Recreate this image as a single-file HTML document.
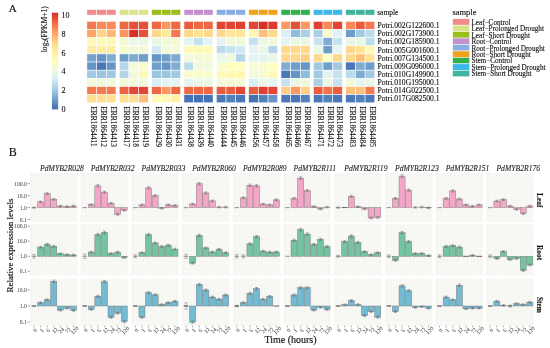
<!DOCTYPE html>
<html><head><meta charset="utf-8"><style>
html,body{margin:0;padding:0;background:#fff;width:550px;height:348px;overflow:hidden}
svg{display:block;will-change:transform}
text{font-family:"Liberation Serif", serif;fill:#111;stroke:#111;stroke-width:0.12px}
.s{stroke-width:0.16px}
.st{fill:#2a2a2a;stroke:#2a2a2a}
.t{fill:#505050;stroke:#505050;stroke-width:0.05px}
</style></head><body>
<svg width="550" height="348" viewBox="0 0 550 348">
<rect width="550" height="348" fill="#fff"/>
<rect x="86.90" y="9.5" width="9.70" height="5.6" fill="#F28B8B" stroke="#fff" stroke-width="0.55"/>
<rect x="96.60" y="9.5" width="9.70" height="5.6" fill="#F28B8B" stroke="#fff" stroke-width="0.55"/>
<rect x="106.30" y="9.5" width="9.70" height="5.6" fill="#F28B8B" stroke="#fff" stroke-width="0.55"/>
<rect x="119.25" y="9.5" width="9.70" height="5.6" fill="#D9E38A" stroke="#fff" stroke-width="0.55"/>
<rect x="128.95" y="9.5" width="9.70" height="5.6" fill="#D9E38A" stroke="#fff" stroke-width="0.55"/>
<rect x="138.65" y="9.5" width="9.70" height="5.6" fill="#D9E38A" stroke="#fff" stroke-width="0.55"/>
<rect x="151.60" y="9.5" width="9.70" height="5.6" fill="#9CBE1C" stroke="#fff" stroke-width="0.55"/>
<rect x="161.30" y="9.5" width="9.70" height="5.6" fill="#9CBE1C" stroke="#fff" stroke-width="0.55"/>
<rect x="171.00" y="9.5" width="9.70" height="5.6" fill="#9CBE1C" stroke="#fff" stroke-width="0.55"/>
<rect x="183.95" y="9.5" width="9.70" height="5.6" fill="#C48FCE" stroke="#fff" stroke-width="0.55"/>
<rect x="193.65" y="9.5" width="9.70" height="5.6" fill="#C48FCE" stroke="#fff" stroke-width="0.55"/>
<rect x="203.35" y="9.5" width="9.70" height="5.6" fill="#C48FCE" stroke="#fff" stroke-width="0.55"/>
<rect x="216.30" y="9.5" width="9.70" height="5.6" fill="#88AEE2" stroke="#fff" stroke-width="0.55"/>
<rect x="226.00" y="9.5" width="9.70" height="5.6" fill="#88AEE2" stroke="#fff" stroke-width="0.55"/>
<rect x="235.70" y="9.5" width="9.70" height="5.6" fill="#88AEE2" stroke="#fff" stroke-width="0.55"/>
<rect x="248.65" y="9.5" width="9.70" height="5.6" fill="#EFA21E" stroke="#fff" stroke-width="0.55"/>
<rect x="258.35" y="9.5" width="9.70" height="5.6" fill="#EFA21E" stroke="#fff" stroke-width="0.55"/>
<rect x="268.05" y="9.5" width="9.70" height="5.6" fill="#EFA21E" stroke="#fff" stroke-width="0.55"/>
<rect x="281.00" y="9.5" width="9.70" height="5.6" fill="#33B04D" stroke="#fff" stroke-width="0.55"/>
<rect x="290.70" y="9.5" width="9.70" height="5.6" fill="#33B04D" stroke="#fff" stroke-width="0.55"/>
<rect x="300.40" y="9.5" width="9.70" height="5.6" fill="#33B04D" stroke="#fff" stroke-width="0.55"/>
<rect x="313.35" y="9.5" width="9.70" height="5.6" fill="#3DB8E6" stroke="#fff" stroke-width="0.55"/>
<rect x="323.05" y="9.5" width="9.70" height="5.6" fill="#3DB8E6" stroke="#fff" stroke-width="0.55"/>
<rect x="332.75" y="9.5" width="9.70" height="5.6" fill="#3DB8E6" stroke="#fff" stroke-width="0.55"/>
<rect x="345.70" y="9.5" width="9.70" height="5.6" fill="#41B29E" stroke="#fff" stroke-width="0.55"/>
<rect x="355.40" y="9.5" width="9.70" height="5.6" fill="#41B29E" stroke="#fff" stroke-width="0.55"/>
<rect x="365.10" y="9.5" width="9.70" height="5.6" fill="#41B29E" stroke="#fff" stroke-width="0.55"/>
<rect x="86.90" y="21.30" width="9.70" height="8.15" fill="#F4794E" stroke="#fff" stroke-width="0.55"/>
<rect x="96.60" y="21.30" width="9.70" height="8.15" fill="#FB8957" stroke="#fff" stroke-width="0.55"/>
<rect x="106.30" y="21.30" width="9.70" height="8.15" fill="#FB8957" stroke="#fff" stroke-width="0.55"/>
<rect x="119.25" y="21.30" width="9.70" height="8.15" fill="#ED6845" stroke="#fff" stroke-width="0.55"/>
<rect x="128.95" y="21.30" width="9.70" height="8.15" fill="#E45139" stroke="#fff" stroke-width="0.55"/>
<rect x="138.65" y="21.30" width="9.70" height="8.15" fill="#E45139" stroke="#fff" stroke-width="0.55"/>
<rect x="151.60" y="21.30" width="9.70" height="8.15" fill="#ED6845" stroke="#fff" stroke-width="0.55"/>
<rect x="161.30" y="21.30" width="9.70" height="8.15" fill="#FC9961" stroke="#fff" stroke-width="0.55"/>
<rect x="171.00" y="21.30" width="9.70" height="8.15" fill="#ED6845" stroke="#fff" stroke-width="0.55"/>
<rect x="183.95" y="21.30" width="9.70" height="8.15" fill="#E95D3F" stroke="#fff" stroke-width="0.55"/>
<rect x="193.65" y="21.30" width="9.70" height="8.15" fill="#ED6845" stroke="#fff" stroke-width="0.55"/>
<rect x="203.35" y="21.30" width="9.70" height="8.15" fill="#ED6845" stroke="#fff" stroke-width="0.55"/>
<rect x="216.30" y="21.30" width="9.70" height="8.15" fill="#E04633" stroke="#fff" stroke-width="0.55"/>
<rect x="226.00" y="21.30" width="9.70" height="8.15" fill="#E04633" stroke="#fff" stroke-width="0.55"/>
<rect x="235.70" y="21.30" width="9.70" height="8.15" fill="#DE4130" stroke="#fff" stroke-width="0.55"/>
<rect x="248.65" y="21.30" width="9.70" height="8.15" fill="#E04633" stroke="#fff" stroke-width="0.55"/>
<rect x="258.35" y="21.30" width="9.70" height="8.15" fill="#D73027" stroke="#fff" stroke-width="0.55"/>
<rect x="268.05" y="21.30" width="9.70" height="8.15" fill="#DB3B2D" stroke="#fff" stroke-width="0.55"/>
<rect x="281.00" y="21.30" width="9.70" height="8.15" fill="#FC9961" stroke="#fff" stroke-width="0.55"/>
<rect x="290.70" y="21.30" width="9.70" height="8.15" fill="#E45139" stroke="#fff" stroke-width="0.55"/>
<rect x="300.40" y="21.30" width="9.70" height="8.15" fill="#FC9961" stroke="#fff" stroke-width="0.55"/>
<rect x="313.35" y="21.30" width="9.70" height="8.15" fill="#DE4130" stroke="#fff" stroke-width="0.55"/>
<rect x="323.05" y="21.30" width="9.70" height="8.15" fill="#FB8957" stroke="#fff" stroke-width="0.55"/>
<rect x="332.75" y="21.30" width="9.70" height="8.15" fill="#E04633" stroke="#fff" stroke-width="0.55"/>
<rect x="345.70" y="21.30" width="9.70" height="8.15" fill="#FB8957" stroke="#fff" stroke-width="0.55"/>
<rect x="355.40" y="21.30" width="9.70" height="8.15" fill="#E95D3F" stroke="#fff" stroke-width="0.55"/>
<rect x="365.10" y="21.30" width="9.70" height="8.15" fill="#F4794E" stroke="#fff" stroke-width="0.55"/>
<rect x="86.90" y="29.45" width="9.70" height="8.15" fill="#FDA367" stroke="#fff" stroke-width="0.55"/>
<rect x="96.60" y="29.45" width="9.70" height="8.15" fill="#FED488" stroke="#fff" stroke-width="0.55"/>
<rect x="106.30" y="29.45" width="9.70" height="8.15" fill="#FDB674" stroke="#fff" stroke-width="0.55"/>
<rect x="119.25" y="29.45" width="9.70" height="8.15" fill="#FC945D" stroke="#fff" stroke-width="0.55"/>
<rect x="128.95" y="29.45" width="9.70" height="8.15" fill="#D73027" stroke="#fff" stroke-width="0.55"/>
<rect x="138.65" y="29.45" width="9.70" height="8.15" fill="#E45139" stroke="#fff" stroke-width="0.55"/>
<rect x="151.60" y="29.45" width="9.70" height="8.15" fill="#FED98C" stroke="#fff" stroke-width="0.55"/>
<rect x="161.30" y="29.45" width="9.70" height="8.15" fill="#FEE99D" stroke="#fff" stroke-width="0.55"/>
<rect x="171.00" y="29.45" width="9.70" height="8.15" fill="#F4794E" stroke="#fff" stroke-width="0.55"/>
<rect x="183.95" y="29.45" width="9.70" height="8.15" fill="#FED98C" stroke="#fff" stroke-width="0.55"/>
<rect x="193.65" y="29.45" width="9.70" height="8.15" fill="#FEE395" stroke="#fff" stroke-width="0.55"/>
<rect x="203.35" y="29.45" width="9.70" height="8.15" fill="#FED98C" stroke="#fff" stroke-width="0.55"/>
<rect x="216.30" y="29.45" width="9.70" height="8.15" fill="#FED98C" stroke="#fff" stroke-width="0.55"/>
<rect x="226.00" y="29.45" width="9.70" height="8.15" fill="#FEE79A" stroke="#fff" stroke-width="0.55"/>
<rect x="235.70" y="29.45" width="9.70" height="8.15" fill="#FEE79A" stroke="#fff" stroke-width="0.55"/>
<rect x="248.65" y="29.45" width="9.70" height="8.15" fill="#FFF6B1" stroke="#fff" stroke-width="0.55"/>
<rect x="258.35" y="29.45" width="9.70" height="8.15" fill="#FDC07B" stroke="#fff" stroke-width="0.55"/>
<rect x="268.05" y="29.45" width="9.70" height="8.15" fill="#FED98C" stroke="#fff" stroke-width="0.55"/>
<rect x="281.00" y="29.45" width="9.70" height="8.15" fill="#DAEFF6" stroke="#fff" stroke-width="0.55"/>
<rect x="290.70" y="29.45" width="9.70" height="8.15" fill="#8EBCD9" stroke="#fff" stroke-width="0.55"/>
<rect x="300.40" y="29.45" width="9.70" height="8.15" fill="#AAD0E4" stroke="#fff" stroke-width="0.55"/>
<rect x="313.35" y="29.45" width="9.70" height="8.15" fill="#AAD0E4" stroke="#fff" stroke-width="0.55"/>
<rect x="323.05" y="29.45" width="9.70" height="8.15" fill="#F8FCCD" stroke="#fff" stroke-width="0.55"/>
<rect x="332.75" y="29.45" width="9.70" height="8.15" fill="#DEF2F7" stroke="#fff" stroke-width="0.55"/>
<rect x="345.70" y="29.45" width="9.70" height="8.15" fill="#709ECB" stroke="#fff" stroke-width="0.55"/>
<rect x="355.40" y="29.45" width="9.70" height="8.15" fill="#A1C9E1" stroke="#fff" stroke-width="0.55"/>
<rect x="365.10" y="29.45" width="9.70" height="8.15" fill="#BDDCEB" stroke="#fff" stroke-width="0.55"/>
<rect x="86.90" y="37.60" width="9.70" height="8.15" fill="#FFF9B7" stroke="#fff" stroke-width="0.55"/>
<rect x="96.60" y="37.60" width="9.70" height="8.15" fill="#FFF9B7" stroke="#fff" stroke-width="0.55"/>
<rect x="106.30" y="37.60" width="9.70" height="8.15" fill="#FFF6B1" stroke="#fff" stroke-width="0.55"/>
<rect x="119.25" y="37.60" width="9.70" height="8.15" fill="#F4FBD4" stroke="#fff" stroke-width="0.55"/>
<rect x="128.95" y="37.60" width="9.70" height="8.15" fill="#EBF7E5" stroke="#fff" stroke-width="0.55"/>
<rect x="138.65" y="37.60" width="9.70" height="8.15" fill="#EBF7E5" stroke="#fff" stroke-width="0.55"/>
<rect x="151.60" y="37.60" width="9.70" height="8.15" fill="#EBF7E5" stroke="#fff" stroke-width="0.55"/>
<rect x="161.30" y="37.60" width="9.70" height="8.15" fill="#F2FAD7" stroke="#fff" stroke-width="0.55"/>
<rect x="171.00" y="37.60" width="9.70" height="8.15" fill="#F4FBD4" stroke="#fff" stroke-width="0.55"/>
<rect x="183.95" y="37.60" width="9.70" height="8.15" fill="#E3F4F2" stroke="#fff" stroke-width="0.55"/>
<rect x="193.65" y="37.60" width="9.70" height="8.15" fill="#C7E2EF" stroke="#fff" stroke-width="0.55"/>
<rect x="203.35" y="37.60" width="9.70" height="8.15" fill="#E3F4F2" stroke="#fff" stroke-width="0.55"/>
<rect x="216.30" y="37.60" width="9.70" height="8.15" fill="#E3F4F2" stroke="#fff" stroke-width="0.55"/>
<rect x="226.00" y="37.60" width="9.70" height="8.15" fill="#F0F9DA" stroke="#fff" stroke-width="0.55"/>
<rect x="235.70" y="37.60" width="9.70" height="8.15" fill="#F0F9DA" stroke="#fff" stroke-width="0.55"/>
<rect x="248.65" y="37.60" width="9.70" height="8.15" fill="#C7E2EF" stroke="#fff" stroke-width="0.55"/>
<rect x="258.35" y="37.60" width="9.70" height="8.15" fill="#EBF7E5" stroke="#fff" stroke-width="0.55"/>
<rect x="268.05" y="37.60" width="9.70" height="8.15" fill="#F0F9DA" stroke="#fff" stroke-width="0.55"/>
<rect x="281.00" y="37.60" width="9.70" height="8.15" fill="#E3F4F2" stroke="#fff" stroke-width="0.55"/>
<rect x="290.70" y="37.60" width="9.70" height="8.15" fill="#EBF7E5" stroke="#fff" stroke-width="0.55"/>
<rect x="300.40" y="37.60" width="9.70" height="8.15" fill="#EBF7E5" stroke="#fff" stroke-width="0.55"/>
<rect x="313.35" y="37.60" width="9.70" height="8.15" fill="#C7E2EF" stroke="#fff" stroke-width="0.55"/>
<rect x="323.05" y="37.60" width="9.70" height="8.15" fill="#7FADD2" stroke="#fff" stroke-width="0.55"/>
<rect x="332.75" y="37.60" width="9.70" height="8.15" fill="#C7E2EF" stroke="#fff" stroke-width="0.55"/>
<rect x="345.70" y="37.60" width="9.70" height="8.15" fill="#EBF7E5" stroke="#fff" stroke-width="0.55"/>
<rect x="355.40" y="37.60" width="9.70" height="8.15" fill="#EBF7E5" stroke="#fff" stroke-width="0.55"/>
<rect x="365.10" y="37.60" width="9.70" height="8.15" fill="#BDDCEB" stroke="#fff" stroke-width="0.55"/>
<rect x="86.90" y="45.75" width="9.70" height="8.15" fill="#FEECA3" stroke="#fff" stroke-width="0.55"/>
<rect x="96.60" y="45.75" width="9.70" height="8.15" fill="#FEECA3" stroke="#fff" stroke-width="0.55"/>
<rect x="106.30" y="45.75" width="9.70" height="8.15" fill="#FEECA3" stroke="#fff" stroke-width="0.55"/>
<rect x="119.25" y="45.75" width="9.70" height="8.15" fill="#F8FCCD" stroke="#fff" stroke-width="0.55"/>
<rect x="128.95" y="45.75" width="9.70" height="8.15" fill="#F2FAD7" stroke="#fff" stroke-width="0.55"/>
<rect x="138.65" y="45.75" width="9.70" height="8.15" fill="#F2FAD7" stroke="#fff" stroke-width="0.55"/>
<rect x="151.60" y="45.75" width="9.70" height="8.15" fill="#D0E9F2" stroke="#fff" stroke-width="0.55"/>
<rect x="161.30" y="45.75" width="9.70" height="8.15" fill="#F2FAD7" stroke="#fff" stroke-width="0.55"/>
<rect x="171.00" y="45.75" width="9.70" height="8.15" fill="#F2FAD7" stroke="#fff" stroke-width="0.55"/>
<rect x="183.95" y="45.75" width="9.70" height="8.15" fill="#FFF9B7" stroke="#fff" stroke-width="0.55"/>
<rect x="193.65" y="45.75" width="9.70" height="8.15" fill="#FFF9B7" stroke="#fff" stroke-width="0.55"/>
<rect x="203.35" y="45.75" width="9.70" height="8.15" fill="#FFF9B7" stroke="#fff" stroke-width="0.55"/>
<rect x="216.30" y="45.75" width="9.70" height="8.15" fill="#BDDCEB" stroke="#fff" stroke-width="0.55"/>
<rect x="226.00" y="45.75" width="9.70" height="8.15" fill="#C7E2EF" stroke="#fff" stroke-width="0.55"/>
<rect x="235.70" y="45.75" width="9.70" height="8.15" fill="#D0E9F2" stroke="#fff" stroke-width="0.55"/>
<rect x="248.65" y="45.75" width="9.70" height="8.15" fill="#E3F4F2" stroke="#fff" stroke-width="0.55"/>
<rect x="258.35" y="45.75" width="9.70" height="8.15" fill="#EBF7E5" stroke="#fff" stroke-width="0.55"/>
<rect x="268.05" y="45.75" width="9.70" height="8.15" fill="#B4D6E8" stroke="#fff" stroke-width="0.55"/>
<rect x="281.00" y="45.75" width="9.70" height="8.15" fill="#FED98C" stroke="#fff" stroke-width="0.55"/>
<rect x="290.70" y="45.75" width="9.70" height="8.15" fill="#FED98C" stroke="#fff" stroke-width="0.55"/>
<rect x="300.40" y="45.75" width="9.70" height="8.15" fill="#FED98C" stroke="#fff" stroke-width="0.55"/>
<rect x="313.35" y="45.75" width="9.70" height="8.15" fill="#EBF7E5" stroke="#fff" stroke-width="0.55"/>
<rect x="323.05" y="45.75" width="9.70" height="8.15" fill="#709ECB" stroke="#fff" stroke-width="0.55"/>
<rect x="332.75" y="45.75" width="9.70" height="8.15" fill="#E3F4F2" stroke="#fff" stroke-width="0.55"/>
<rect x="345.70" y="45.75" width="9.70" height="8.15" fill="#FED98C" stroke="#fff" stroke-width="0.55"/>
<rect x="355.40" y="45.75" width="9.70" height="8.15" fill="#FEE395" stroke="#fff" stroke-width="0.55"/>
<rect x="365.10" y="45.75" width="9.70" height="8.15" fill="#FFF9B7" stroke="#fff" stroke-width="0.55"/>
<rect x="86.90" y="53.90" width="9.70" height="8.15" fill="#75A3CD" stroke="#fff" stroke-width="0.55"/>
<rect x="96.60" y="53.90" width="9.70" height="8.15" fill="#6694C6" stroke="#fff" stroke-width="0.55"/>
<rect x="106.30" y="53.90" width="9.70" height="8.15" fill="#7FADD2" stroke="#fff" stroke-width="0.55"/>
<rect x="119.25" y="53.90" width="9.70" height="8.15" fill="#709ECB" stroke="#fff" stroke-width="0.55"/>
<rect x="128.95" y="53.90" width="9.70" height="8.15" fill="#7FADD2" stroke="#fff" stroke-width="0.55"/>
<rect x="138.65" y="53.90" width="9.70" height="8.15" fill="#709ECB" stroke="#fff" stroke-width="0.55"/>
<rect x="151.60" y="53.90" width="9.70" height="8.15" fill="#6694C6" stroke="#fff" stroke-width="0.55"/>
<rect x="161.30" y="53.90" width="9.70" height="8.15" fill="#709ECB" stroke="#fff" stroke-width="0.55"/>
<rect x="171.00" y="53.90" width="9.70" height="8.15" fill="#7FADD2" stroke="#fff" stroke-width="0.55"/>
<rect x="183.95" y="53.90" width="9.70" height="8.15" fill="#F0F9DA" stroke="#fff" stroke-width="0.55"/>
<rect x="193.65" y="53.90" width="9.70" height="8.15" fill="#F4FBD4" stroke="#fff" stroke-width="0.55"/>
<rect x="203.35" y="53.90" width="9.70" height="8.15" fill="#F4FBD4" stroke="#fff" stroke-width="0.55"/>
<rect x="216.30" y="53.90" width="9.70" height="8.15" fill="#EBF7E5" stroke="#fff" stroke-width="0.55"/>
<rect x="226.00" y="53.90" width="9.70" height="8.15" fill="#F0F9DA" stroke="#fff" stroke-width="0.55"/>
<rect x="235.70" y="53.90" width="9.70" height="8.15" fill="#B4D6E8" stroke="#fff" stroke-width="0.55"/>
<rect x="248.65" y="53.90" width="9.70" height="8.15" fill="#E3F4F2" stroke="#fff" stroke-width="0.55"/>
<rect x="258.35" y="53.90" width="9.70" height="8.15" fill="#E3F4F2" stroke="#fff" stroke-width="0.55"/>
<rect x="268.05" y="53.90" width="9.70" height="8.15" fill="#EBF7E5" stroke="#fff" stroke-width="0.55"/>
<rect x="281.00" y="53.90" width="9.70" height="8.15" fill="#FED98C" stroke="#fff" stroke-width="0.55"/>
<rect x="290.70" y="53.90" width="9.70" height="8.15" fill="#FED98C" stroke="#fff" stroke-width="0.55"/>
<rect x="300.40" y="53.90" width="9.70" height="8.15" fill="#FECF85" stroke="#fff" stroke-width="0.55"/>
<rect x="313.35" y="53.90" width="9.70" height="8.15" fill="#FED98C" stroke="#fff" stroke-width="0.55"/>
<rect x="323.05" y="53.90" width="9.70" height="8.15" fill="#FFFFBF" stroke="#fff" stroke-width="0.55"/>
<rect x="332.75" y="53.90" width="9.70" height="8.15" fill="#FED98C" stroke="#fff" stroke-width="0.55"/>
<rect x="345.70" y="53.90" width="9.70" height="8.15" fill="#FED98C" stroke="#fff" stroke-width="0.55"/>
<rect x="355.40" y="53.90" width="9.70" height="8.15" fill="#FDC07B" stroke="#fff" stroke-width="0.55"/>
<rect x="365.10" y="53.90" width="9.70" height="8.15" fill="#FEE395" stroke="#fff" stroke-width="0.55"/>
<rect x="86.90" y="62.05" width="9.70" height="8.15" fill="#6694C6" stroke="#fff" stroke-width="0.55"/>
<rect x="96.60" y="62.05" width="9.70" height="8.15" fill="#4977B7" stroke="#fff" stroke-width="0.55"/>
<rect x="106.30" y="62.05" width="9.70" height="8.15" fill="#6694C6" stroke="#fff" stroke-width="0.55"/>
<rect x="119.25" y="62.05" width="9.70" height="8.15" fill="#B4D6E8" stroke="#fff" stroke-width="0.55"/>
<rect x="128.95" y="62.05" width="9.70" height="8.15" fill="#F4FBD4" stroke="#fff" stroke-width="0.55"/>
<rect x="138.65" y="62.05" width="9.70" height="8.15" fill="#F8FCCD" stroke="#fff" stroke-width="0.55"/>
<rect x="151.60" y="62.05" width="9.70" height="8.15" fill="#709ECB" stroke="#fff" stroke-width="0.55"/>
<rect x="161.30" y="62.05" width="9.70" height="8.15" fill="#6694C6" stroke="#fff" stroke-width="0.55"/>
<rect x="171.00" y="62.05" width="9.70" height="8.15" fill="#7FADD2" stroke="#fff" stroke-width="0.55"/>
<rect x="183.95" y="62.05" width="9.70" height="8.15" fill="#BDDCEB" stroke="#fff" stroke-width="0.55"/>
<rect x="193.65" y="62.05" width="9.70" height="8.15" fill="#F0F9DA" stroke="#fff" stroke-width="0.55"/>
<rect x="203.35" y="62.05" width="9.70" height="8.15" fill="#F0F9DA" stroke="#fff" stroke-width="0.55"/>
<rect x="216.30" y="62.05" width="9.70" height="8.15" fill="#F8FCCD" stroke="#fff" stroke-width="0.55"/>
<rect x="226.00" y="62.05" width="9.70" height="8.15" fill="#FFFFBF" stroke="#fff" stroke-width="0.55"/>
<rect x="235.70" y="62.05" width="9.70" height="8.15" fill="#FFFFBF" stroke="#fff" stroke-width="0.55"/>
<rect x="248.65" y="62.05" width="9.70" height="8.15" fill="#F8FCCD" stroke="#fff" stroke-width="0.55"/>
<rect x="258.35" y="62.05" width="9.70" height="8.15" fill="#F8FCCD" stroke="#fff" stroke-width="0.55"/>
<rect x="268.05" y="62.05" width="9.70" height="8.15" fill="#FFFFBF" stroke="#fff" stroke-width="0.55"/>
<rect x="281.00" y="62.05" width="9.70" height="8.15" fill="#7FADD2" stroke="#fff" stroke-width="0.55"/>
<rect x="290.70" y="62.05" width="9.70" height="8.15" fill="#709ECB" stroke="#fff" stroke-width="0.55"/>
<rect x="300.40" y="62.05" width="9.70" height="8.15" fill="#6694C6" stroke="#fff" stroke-width="0.55"/>
<rect x="313.35" y="62.05" width="9.70" height="8.15" fill="#A1C9E1" stroke="#fff" stroke-width="0.55"/>
<rect x="323.05" y="62.05" width="9.70" height="8.15" fill="#709ECB" stroke="#fff" stroke-width="0.55"/>
<rect x="332.75" y="62.05" width="9.70" height="8.15" fill="#A1C9E1" stroke="#fff" stroke-width="0.55"/>
<rect x="345.70" y="62.05" width="9.70" height="8.15" fill="#4977B7" stroke="#fff" stroke-width="0.55"/>
<rect x="355.40" y="62.05" width="9.70" height="8.15" fill="#7FADD2" stroke="#fff" stroke-width="0.55"/>
<rect x="365.10" y="62.05" width="9.70" height="8.15" fill="#709ECB" stroke="#fff" stroke-width="0.55"/>
<rect x="86.90" y="70.20" width="9.70" height="8.15" fill="#A1C9E1" stroke="#fff" stroke-width="0.55"/>
<rect x="96.60" y="70.20" width="9.70" height="8.15" fill="#9CC6DF" stroke="#fff" stroke-width="0.55"/>
<rect x="106.30" y="70.20" width="9.70" height="8.15" fill="#A1C9E1" stroke="#fff" stroke-width="0.55"/>
<rect x="119.25" y="70.20" width="9.70" height="8.15" fill="#B4D6E8" stroke="#fff" stroke-width="0.55"/>
<rect x="128.95" y="70.20" width="9.70" height="8.15" fill="#F0F9DA" stroke="#fff" stroke-width="0.55"/>
<rect x="138.65" y="70.20" width="9.70" height="8.15" fill="#FFF9B7" stroke="#fff" stroke-width="0.55"/>
<rect x="151.60" y="70.20" width="9.70" height="8.15" fill="#9CC6DF" stroke="#fff" stroke-width="0.55"/>
<rect x="161.30" y="70.20" width="9.70" height="8.15" fill="#9CC6DF" stroke="#fff" stroke-width="0.55"/>
<rect x="171.00" y="70.20" width="9.70" height="8.15" fill="#A1C9E1" stroke="#fff" stroke-width="0.55"/>
<rect x="183.95" y="70.20" width="9.70" height="8.15" fill="#F8FCCD" stroke="#fff" stroke-width="0.55"/>
<rect x="193.65" y="70.20" width="9.70" height="8.15" fill="#F8FCCD" stroke="#fff" stroke-width="0.55"/>
<rect x="203.35" y="70.20" width="9.70" height="8.15" fill="#F8FCCD" stroke="#fff" stroke-width="0.55"/>
<rect x="216.30" y="70.20" width="9.70" height="8.15" fill="#FFF9B7" stroke="#fff" stroke-width="0.55"/>
<rect x="226.00" y="70.20" width="9.70" height="8.15" fill="#FFF6B1" stroke="#fff" stroke-width="0.55"/>
<rect x="235.70" y="70.20" width="9.70" height="8.15" fill="#FFF6B1" stroke="#fff" stroke-width="0.55"/>
<rect x="248.65" y="70.20" width="9.70" height="8.15" fill="#F0F9DA" stroke="#fff" stroke-width="0.55"/>
<rect x="258.35" y="70.20" width="9.70" height="8.15" fill="#F8FCCD" stroke="#fff" stroke-width="0.55"/>
<rect x="268.05" y="70.20" width="9.70" height="8.15" fill="#FFF9B7" stroke="#fff" stroke-width="0.55"/>
<rect x="281.00" y="70.20" width="9.70" height="8.15" fill="#4977B7" stroke="#fff" stroke-width="0.55"/>
<rect x="290.70" y="70.20" width="9.70" height="8.15" fill="#6694C6" stroke="#fff" stroke-width="0.55"/>
<rect x="300.40" y="70.20" width="9.70" height="8.15" fill="#8EBCD9" stroke="#fff" stroke-width="0.55"/>
<rect x="313.35" y="70.20" width="9.70" height="8.15" fill="#A1C9E1" stroke="#fff" stroke-width="0.55"/>
<rect x="323.05" y="70.20" width="9.70" height="8.15" fill="#E3F4F2" stroke="#fff" stroke-width="0.55"/>
<rect x="332.75" y="70.20" width="9.70" height="8.15" fill="#C7E2EF" stroke="#fff" stroke-width="0.55"/>
<rect x="345.70" y="70.20" width="9.70" height="8.15" fill="#BDDCEB" stroke="#fff" stroke-width="0.55"/>
<rect x="355.40" y="70.20" width="9.70" height="8.15" fill="#7FADD2" stroke="#fff" stroke-width="0.55"/>
<rect x="365.10" y="70.20" width="9.70" height="8.15" fill="#A1C9E1" stroke="#fff" stroke-width="0.55"/>
<rect x="86.90" y="78.35" width="9.70" height="8.15" fill="#F0F9DA" stroke="#fff" stroke-width="0.55"/>
<rect x="96.60" y="78.35" width="9.70" height="8.15" fill="#F0F9DA" stroke="#fff" stroke-width="0.55"/>
<rect x="106.30" y="78.35" width="9.70" height="8.15" fill="#F0F9DA" stroke="#fff" stroke-width="0.55"/>
<rect x="119.25" y="78.35" width="9.70" height="8.15" fill="#F0F9DA" stroke="#fff" stroke-width="0.55"/>
<rect x="128.95" y="78.35" width="9.70" height="8.15" fill="#F0F9DA" stroke="#fff" stroke-width="0.55"/>
<rect x="138.65" y="78.35" width="9.70" height="8.15" fill="#F0F9DA" stroke="#fff" stroke-width="0.55"/>
<rect x="151.60" y="78.35" width="9.70" height="8.15" fill="#DAEFF6" stroke="#fff" stroke-width="0.55"/>
<rect x="161.30" y="78.35" width="9.70" height="8.15" fill="#E3F4F2" stroke="#fff" stroke-width="0.55"/>
<rect x="171.00" y="78.35" width="9.70" height="8.15" fill="#E3F4F2" stroke="#fff" stroke-width="0.55"/>
<rect x="183.95" y="78.35" width="9.70" height="8.15" fill="#E3F4F2" stroke="#fff" stroke-width="0.55"/>
<rect x="193.65" y="78.35" width="9.70" height="8.15" fill="#EBF7E5" stroke="#fff" stroke-width="0.55"/>
<rect x="203.35" y="78.35" width="9.70" height="8.15" fill="#EBF7E5" stroke="#fff" stroke-width="0.55"/>
<rect x="216.30" y="78.35" width="9.70" height="8.15" fill="#F0F9DA" stroke="#fff" stroke-width="0.55"/>
<rect x="226.00" y="78.35" width="9.70" height="8.15" fill="#F4FBD4" stroke="#fff" stroke-width="0.55"/>
<rect x="235.70" y="78.35" width="9.70" height="8.15" fill="#F4FBD4" stroke="#fff" stroke-width="0.55"/>
<rect x="248.65" y="78.35" width="9.70" height="8.15" fill="#DAEFF6" stroke="#fff" stroke-width="0.55"/>
<rect x="258.35" y="78.35" width="9.70" height="8.15" fill="#EBF7E5" stroke="#fff" stroke-width="0.55"/>
<rect x="268.05" y="78.35" width="9.70" height="8.15" fill="#E3F4F2" stroke="#fff" stroke-width="0.55"/>
<rect x="281.00" y="78.35" width="9.70" height="8.15" fill="#C7E2EF" stroke="#fff" stroke-width="0.55"/>
<rect x="290.70" y="78.35" width="9.70" height="8.15" fill="#EBF7E5" stroke="#fff" stroke-width="0.55"/>
<rect x="300.40" y="78.35" width="9.70" height="8.15" fill="#F0F9DA" stroke="#fff" stroke-width="0.55"/>
<rect x="313.35" y="78.35" width="9.70" height="8.15" fill="#AAD0E4" stroke="#fff" stroke-width="0.55"/>
<rect x="323.05" y="78.35" width="9.70" height="8.15" fill="#EBF7E5" stroke="#fff" stroke-width="0.55"/>
<rect x="332.75" y="78.35" width="9.70" height="8.15" fill="#C7E2EF" stroke="#fff" stroke-width="0.55"/>
<rect x="345.70" y="78.35" width="9.70" height="8.15" fill="#F0F9DA" stroke="#fff" stroke-width="0.55"/>
<rect x="355.40" y="78.35" width="9.70" height="8.15" fill="#E3F4F2" stroke="#fff" stroke-width="0.55"/>
<rect x="365.10" y="78.35" width="9.70" height="8.15" fill="#EBF7E5" stroke="#fff" stroke-width="0.55"/>
<rect x="86.90" y="86.50" width="9.70" height="8.15" fill="#F4794E" stroke="#fff" stroke-width="0.55"/>
<rect x="96.60" y="86.50" width="9.70" height="8.15" fill="#F4794E" stroke="#fff" stroke-width="0.55"/>
<rect x="106.30" y="86.50" width="9.70" height="8.15" fill="#F4794E" stroke="#fff" stroke-width="0.55"/>
<rect x="119.25" y="86.50" width="9.70" height="8.15" fill="#EB6242" stroke="#fff" stroke-width="0.55"/>
<rect x="128.95" y="86.50" width="9.70" height="8.15" fill="#E04633" stroke="#fff" stroke-width="0.55"/>
<rect x="138.65" y="86.50" width="9.70" height="8.15" fill="#E04633" stroke="#fff" stroke-width="0.55"/>
<rect x="151.60" y="86.50" width="9.70" height="8.15" fill="#ED6845" stroke="#fff" stroke-width="0.55"/>
<rect x="161.30" y="86.50" width="9.70" height="8.15" fill="#FC9961" stroke="#fff" stroke-width="0.55"/>
<rect x="171.00" y="86.50" width="9.70" height="8.15" fill="#ED6845" stroke="#fff" stroke-width="0.55"/>
<rect x="183.95" y="86.50" width="9.70" height="8.15" fill="#ED6845" stroke="#fff" stroke-width="0.55"/>
<rect x="193.65" y="86.50" width="9.70" height="8.15" fill="#ED6845" stroke="#fff" stroke-width="0.55"/>
<rect x="203.35" y="86.50" width="9.70" height="8.15" fill="#ED6845" stroke="#fff" stroke-width="0.55"/>
<rect x="216.30" y="86.50" width="9.70" height="8.15" fill="#E95D3F" stroke="#fff" stroke-width="0.55"/>
<rect x="226.00" y="86.50" width="9.70" height="8.15" fill="#E95D3F" stroke="#fff" stroke-width="0.55"/>
<rect x="235.70" y="86.50" width="9.70" height="8.15" fill="#E04633" stroke="#fff" stroke-width="0.55"/>
<rect x="248.65" y="86.50" width="9.70" height="8.15" fill="#E95D3F" stroke="#fff" stroke-width="0.55"/>
<rect x="258.35" y="86.50" width="9.70" height="8.15" fill="#DE4130" stroke="#fff" stroke-width="0.55"/>
<rect x="268.05" y="86.50" width="9.70" height="8.15" fill="#E04633" stroke="#fff" stroke-width="0.55"/>
<rect x="281.00" y="86.50" width="9.70" height="8.15" fill="#FECF85" stroke="#fff" stroke-width="0.55"/>
<rect x="290.70" y="86.50" width="9.70" height="8.15" fill="#FC9961" stroke="#fff" stroke-width="0.55"/>
<rect x="300.40" y="86.50" width="9.70" height="8.15" fill="#FECF85" stroke="#fff" stroke-width="0.55"/>
<rect x="313.35" y="86.50" width="9.70" height="8.15" fill="#E95D3F" stroke="#fff" stroke-width="0.55"/>
<rect x="323.05" y="86.50" width="9.70" height="8.15" fill="#F2734B" stroke="#fff" stroke-width="0.55"/>
<rect x="332.75" y="86.50" width="9.70" height="8.15" fill="#E95D3F" stroke="#fff" stroke-width="0.55"/>
<rect x="345.70" y="86.50" width="9.70" height="8.15" fill="#FDC07B" stroke="#fff" stroke-width="0.55"/>
<rect x="355.40" y="86.50" width="9.70" height="8.15" fill="#FDC07B" stroke="#fff" stroke-width="0.55"/>
<rect x="365.10" y="86.50" width="9.70" height="8.15" fill="#F4794E" stroke="#fff" stroke-width="0.55"/>
<rect x="86.90" y="94.65" width="9.70" height="8.15" fill="#FEDE8F" stroke="#fff" stroke-width="0.55"/>
<rect x="96.60" y="94.65" width="9.70" height="8.15" fill="#FEDE8F" stroke="#fff" stroke-width="0.55"/>
<rect x="106.30" y="94.65" width="9.70" height="8.15" fill="#FEDE8F" stroke="#fff" stroke-width="0.55"/>
<rect x="119.25" y="94.65" width="9.70" height="8.15" fill="#FEDE8F" stroke="#fff" stroke-width="0.55"/>
<rect x="128.95" y="94.65" width="9.70" height="8.15" fill="#FEDE8F" stroke="#fff" stroke-width="0.55"/>
<rect x="138.65" y="94.65" width="9.70" height="8.15" fill="#FDC07B" stroke="#fff" stroke-width="0.55"/>
<rect x="151.60" y="94.65" width="9.70" height="8.15" fill="#FFFBB9" stroke="#fff" stroke-width="0.55"/>
<rect x="161.30" y="94.65" width="9.70" height="8.15" fill="#FFF9B7" stroke="#fff" stroke-width="0.55"/>
<rect x="171.00" y="94.65" width="9.70" height="8.15" fill="#FFF0A8" stroke="#fff" stroke-width="0.55"/>
<rect x="183.95" y="94.65" width="9.70" height="8.15" fill="#4472B4" stroke="#fff" stroke-width="0.55"/>
<rect x="193.65" y="94.65" width="9.70" height="8.15" fill="#4472B4" stroke="#fff" stroke-width="0.55"/>
<rect x="203.35" y="94.65" width="9.70" height="8.15" fill="#4472B4" stroke="#fff" stroke-width="0.55"/>
<rect x="216.30" y="94.65" width="9.70" height="8.15" fill="#4977B7" stroke="#fff" stroke-width="0.55"/>
<rect x="226.00" y="94.65" width="9.70" height="8.15" fill="#5381BC" stroke="#fff" stroke-width="0.55"/>
<rect x="235.70" y="94.65" width="9.70" height="8.15" fill="#4977B7" stroke="#fff" stroke-width="0.55"/>
<rect x="248.65" y="94.65" width="9.70" height="8.15" fill="#4472B4" stroke="#fff" stroke-width="0.55"/>
<rect x="258.35" y="94.65" width="9.70" height="8.15" fill="#5381BC" stroke="#fff" stroke-width="0.55"/>
<rect x="268.05" y="94.65" width="9.70" height="8.15" fill="#6694C6" stroke="#fff" stroke-width="0.55"/>
<rect x="281.00" y="94.65" width="9.70" height="8.15" fill="#4977B7" stroke="#fff" stroke-width="0.55"/>
<rect x="290.70" y="94.65" width="9.70" height="8.15" fill="#4977B7" stroke="#fff" stroke-width="0.55"/>
<rect x="300.40" y="94.65" width="9.70" height="8.15" fill="#5381BC" stroke="#fff" stroke-width="0.55"/>
<rect x="313.35" y="94.65" width="9.70" height="8.15" fill="#4977B7" stroke="#fff" stroke-width="0.55"/>
<rect x="323.05" y="94.65" width="9.70" height="8.15" fill="#5381BC" stroke="#fff" stroke-width="0.55"/>
<rect x="332.75" y="94.65" width="9.70" height="8.15" fill="#4977B7" stroke="#fff" stroke-width="0.55"/>
<rect x="345.70" y="94.65" width="9.70" height="8.15" fill="#4977B7" stroke="#fff" stroke-width="0.55"/>
<rect x="355.40" y="94.65" width="9.70" height="8.15" fill="#5381BC" stroke="#fff" stroke-width="0.55"/>
<rect x="365.10" y="94.65" width="9.70" height="8.15" fill="#4977B7" stroke="#fff" stroke-width="0.55"/>
<text x="377.6" y="28.07" font-size="7.6">Potri.002G122600.1</text>
<text x="377.6" y="36.23" font-size="7.6">Potri.002G173900.1</text>
<text x="377.6" y="44.38" font-size="7.6">Potri.002G185900.1</text>
<text x="377.6" y="52.53" font-size="7.6">Potri.005G001600.1</text>
<text x="377.6" y="60.68" font-size="7.6">Potri.007G134500.1</text>
<text x="377.6" y="68.83" font-size="7.6">Potri.009G096000.1</text>
<text x="377.6" y="76.98" font-size="7.6">Potri.010G149900.1</text>
<text x="377.6" y="85.13" font-size="7.6">Potri.010G195000.1</text>
<text x="377.6" y="93.28" font-size="7.6">Potri.014G022500.1</text>
<text x="377.6" y="101.43" font-size="7.6">Potri.017G082500.1</text>
<text x="377.2" y="14.9" font-size="7.5">sample</text>
<text transform="translate(91.75,106.2) rotate(90)" x="0" y="0" dy="0.3" font-size="7.5">ERR1864411</text>
<text transform="translate(101.45,106.2) rotate(90)" x="0" y="0" dy="0.3" font-size="7.5">ERR1864412</text>
<text transform="translate(111.15,106.2) rotate(90)" x="0" y="0" dy="0.3" font-size="7.5">ERR1864413</text>
<text transform="translate(124.10,106.2) rotate(90)" x="0" y="0" dy="0.3" font-size="7.5">ERR1864417</text>
<text transform="translate(133.80,106.2) rotate(90)" x="0" y="0" dy="0.3" font-size="7.5">ERR1864418</text>
<text transform="translate(143.50,106.2) rotate(90)" x="0" y="0" dy="0.3" font-size="7.5">ERR1864419</text>
<text transform="translate(156.45,106.2) rotate(90)" x="0" y="0" dy="0.3" font-size="7.5">ERR1864429</text>
<text transform="translate(166.15,106.2) rotate(90)" x="0" y="0" dy="0.3" font-size="7.5">ERR1864430</text>
<text transform="translate(175.85,106.2) rotate(90)" x="0" y="0" dy="0.3" font-size="7.5">ERR1864431</text>
<text transform="translate(188.80,106.2) rotate(90)" x="0" y="0" dy="0.3" font-size="7.5">ERR1864438</text>
<text transform="translate(198.50,106.2) rotate(90)" x="0" y="0" dy="0.3" font-size="7.5">ERR1864439</text>
<text transform="translate(208.20,106.2) rotate(90)" x="0" y="0" dy="0.3" font-size="7.5">ERR1864440</text>
<text transform="translate(221.15,106.2) rotate(90)" x="0" y="0" dy="0.3" font-size="7.5">ERR1864444</text>
<text transform="translate(230.85,106.2) rotate(90)" x="0" y="0" dy="0.3" font-size="7.5">ERR1864445</text>
<text transform="translate(240.55,106.2) rotate(90)" x="0" y="0" dy="0.3" font-size="7.5">ERR1864446</text>
<text transform="translate(253.50,106.2) rotate(90)" x="0" y="0" dy="0.3" font-size="7.5">ERR1864456</text>
<text transform="translate(263.20,106.2) rotate(90)" x="0" y="0" dy="0.3" font-size="7.5">ERR1864457</text>
<text transform="translate(272.90,106.2) rotate(90)" x="0" y="0" dy="0.3" font-size="7.5">ERR1864458</text>
<text transform="translate(285.85,106.2) rotate(90)" x="0" y="0" dy="0.3" font-size="7.5">ERR1864465</text>
<text transform="translate(295.55,106.2) rotate(90)" x="0" y="0" dy="0.3" font-size="7.5">ERR1864466</text>
<text transform="translate(305.25,106.2) rotate(90)" x="0" y="0" dy="0.3" font-size="7.5">ERR1864467</text>
<text transform="translate(318.20,106.2) rotate(90)" x="0" y="0" dy="0.3" font-size="7.5">ERR1864471</text>
<text transform="translate(327.90,106.2) rotate(90)" x="0" y="0" dy="0.3" font-size="7.5">ERR1864472</text>
<text transform="translate(337.60,106.2) rotate(90)" x="0" y="0" dy="0.3" font-size="7.5">ERR1864473</text>
<text transform="translate(350.55,106.2) rotate(90)" x="0" y="0" dy="0.3" font-size="7.5">ERR1864483</text>
<text transform="translate(360.25,106.2) rotate(90)" x="0" y="0" dy="0.3" font-size="7.5">ERR1864484</text>
<text transform="translate(369.95,106.2) rotate(90)" x="0" y="0" dy="0.3" font-size="7.5">ERR1864485</text>
<defs><linearGradient id="cb" x1="0" y1="1" x2="0" y2="0"><stop offset="0.000" stop-color="#3F6DB2"/><stop offset="0.167" stop-color="#91BFDB"/><stop offset="0.333" stop-color="#E0F3F8"/><stop offset="0.500" stop-color="#FFFFBF"/><stop offset="0.667" stop-color="#FEE090"/><stop offset="0.833" stop-color="#FC8D59"/><stop offset="1.000" stop-color="#D73027"/></linearGradient></defs>
<rect x="51.9" y="12.7" width="6.3" height="96.7" fill="url(#cb)"/>
<text x="61.4" y="111.90" font-size="8">0</text>
<text x="61.4" y="93.12" font-size="8">2</text>
<text x="61.4" y="74.34" font-size="8">4</text>
<text x="61.4" y="55.56" font-size="8">6</text>
<text x="61.4" y="36.78" font-size="8">8</text>
<text x="61.4" y="18.00" font-size="8">10</text>
<text transform="translate(46.5,52.3) rotate(-90)" font-size="7.6">log<tspan font-size="5.2" dy="1.5">2</tspan><tspan dy="-1.5">(FPKM+1)</tspan></text>
<text x="452.4" y="15" font-size="8.5">sample</text>
<rect x="452.6" y="18.70" width="17.1" height="6.45" fill="#F28B8B" stroke="#fff" stroke-width="0.5"/>
<text x="471.4" y="24.70" font-size="7.2">Leaf−Control</text>
<rect x="452.6" y="25.15" width="17.1" height="6.45" fill="#D9E38A" stroke="#fff" stroke-width="0.5"/>
<text x="471.4" y="31.15" font-size="7.2">Leaf−Prolonged Drought</text>
<rect x="452.6" y="31.60" width="17.1" height="6.45" fill="#9CBE1C" stroke="#fff" stroke-width="0.5"/>
<text x="471.4" y="37.60" font-size="7.2">Leaf−Short Drought</text>
<rect x="452.6" y="38.05" width="17.1" height="6.45" fill="#C48FCE" stroke="#fff" stroke-width="0.5"/>
<text x="471.4" y="44.05" font-size="7.2">Root−Control</text>
<rect x="452.6" y="44.50" width="17.1" height="6.45" fill="#88AEE2" stroke="#fff" stroke-width="0.5"/>
<text x="471.4" y="50.50" font-size="7.2">Root−Prolonged Drought</text>
<rect x="452.6" y="50.95" width="17.1" height="6.45" fill="#EFA21E" stroke="#fff" stroke-width="0.5"/>
<text x="471.4" y="56.95" font-size="7.2">Root−Short Drought</text>
<rect x="452.6" y="57.40" width="17.1" height="6.45" fill="#33B04D" stroke="#fff" stroke-width="0.5"/>
<text x="471.4" y="63.40" font-size="7.2">Stem−Control</text>
<rect x="452.6" y="63.85" width="17.1" height="6.45" fill="#3DB8E6" stroke="#fff" stroke-width="0.5"/>
<text x="471.4" y="69.85" font-size="7.2">Stem−Prolonged Drought</text>
<rect x="452.6" y="70.30" width="17.1" height="6.45" fill="#41B29E" stroke="#fff" stroke-width="0.5"/>
<text x="471.4" y="76.30" font-size="7.2">Stem−Short Drought</text>
<text x="8.8" y="11.7" font-size="11" class="s">A</text>
<text x="8.7" y="155.8" font-size="12" class="s">B</text>
<rect x="30.00" y="172.80" width="47.50" height="49.20" fill="#F5F5F1"/>
<path d="M33.96 172.80V222.00M37.26 172.80V222.00M40.56 172.80V222.00M43.85 172.80V222.00M47.15 172.80V222.00M50.45 172.80V222.00M53.75 172.80V222.00M57.05 172.80V222.00M60.35 172.80V222.00M63.65 172.80V222.00M66.94 172.80V222.00M70.24 172.80V222.00M73.54 172.80V222.00M76.84 172.80V222.00M30.00 219.55H77.50M30.00 213.57H77.50M30.00 207.60H77.50M30.00 201.62H77.50M30.00 195.65H77.50M30.00 189.68H77.50M30.00 183.70H77.50M30.00 177.72H77.50" stroke="#FFFFFF" stroke-width="0.45" fill="none"/>
<rect x="31.66" y="207.05" width="4.6" height="1.10" fill="#9a9a9a"/>
<path d="M32.36 207.00H35.56M33.96 207.00V208.20M32.36 208.20H35.56" stroke="#707070" stroke-width="0.45" fill="none"/>
<rect x="37.52" y="201.86" width="6.07" height="5.74" fill="#F3A7C6" stroke="#767676" stroke-width="0.45"/>
<path d="M39.06 201.04H42.06M40.56 201.04V202.68M39.06 202.68H42.06" stroke="#555" stroke-width="0.45" fill="none"/>
<rect x="44.12" y="193.62" width="6.07" height="13.98" fill="#F3A7C6" stroke="#767676" stroke-width="0.45"/>
<path d="M45.65 192.63H48.65M47.15 192.63V194.61M45.65 194.61H48.65" stroke="#555" stroke-width="0.45" fill="none"/>
<rect x="50.72" y="199.23" width="6.07" height="8.37" fill="#F3A7C6" stroke="#767676" stroke-width="0.45"/>
<path d="M52.25 198.36H55.25M53.75 198.36V200.11M52.25 200.11H55.25" stroke="#555" stroke-width="0.45" fill="none"/>
<rect x="57.31" y="206.05" width="6.07" height="1.55" fill="#F3A7C6" stroke="#767676" stroke-width="0.45"/>
<path d="M58.85 205.31H61.85M60.35 205.31V206.78M58.85 206.78H61.85" stroke="#555" stroke-width="0.45" fill="none"/>
<rect x="63.91" y="206.52" width="6.07" height="1.08" fill="#F3A7C6" stroke="#767676" stroke-width="0.45"/>
<path d="M65.44 205.80H68.44M66.94 205.80V207.25M65.44 207.25H68.44" stroke="#555" stroke-width="0.45" fill="none"/>
<rect x="70.51" y="206.05" width="6.07" height="1.55" fill="#F3A7C6" stroke="#767676" stroke-width="0.45"/>
<path d="M72.04 205.31H75.04M73.54 205.31V206.78M72.04 206.78H75.04" stroke="#555" stroke-width="0.45" fill="none"/>
<text x="40.10" y="170.8" font-size="7.65" font-style="italic" class="st">PdMYB2R028</text>
<rect x="80.70" y="172.80" width="47.50" height="49.20" fill="#F5F5F1"/>
<path d="M84.66 172.80V222.00M87.96 172.80V222.00M91.26 172.80V222.00M94.55 172.80V222.00M97.85 172.80V222.00M101.15 172.80V222.00M104.45 172.80V222.00M107.75 172.80V222.00M111.05 172.80V222.00M114.35 172.80V222.00M117.64 172.80V222.00M120.94 172.80V222.00M124.24 172.80V222.00M127.54 172.80V222.00M80.70 219.55H128.20M80.70 213.57H128.20M80.70 207.60H128.20M80.70 201.62H128.20M80.70 195.65H128.20M80.70 189.68H128.20M80.70 183.70H128.20M80.70 177.72H128.20" stroke="#FFFFFF" stroke-width="0.45" fill="none"/>
<rect x="82.36" y="207.05" width="4.6" height="1.10" fill="#9a9a9a"/>
<rect x="88.22" y="204.61" width="6.07" height="2.99" fill="#F3A7C6" stroke="#767676" stroke-width="0.45"/>
<path d="M89.76 203.85H92.76M91.26 203.85V205.37M89.76 205.37H92.76" stroke="#555" stroke-width="0.45" fill="none"/>
<rect x="94.82" y="185.85" width="6.07" height="21.75" fill="#F3A7C6" stroke="#767676" stroke-width="0.45"/>
<path d="M96.35 184.70H99.35M97.85 184.70V187.00M96.35 187.00H99.35" stroke="#555" stroke-width="0.45" fill="none"/>
<rect x="101.42" y="192.06" width="6.07" height="15.53" fill="#F3A7C6" stroke="#767676" stroke-width="0.45"/>
<path d="M102.95 191.04H105.95M104.45 191.04V193.09M102.95 193.09H105.95" stroke="#555" stroke-width="0.45" fill="none"/>
<rect x="108.01" y="203.18" width="6.07" height="4.42" fill="#F3A7C6" stroke="#767676" stroke-width="0.45"/>
<path d="M109.55 202.39H112.55M111.05 202.39V203.97M109.55 203.97H112.55" stroke="#555" stroke-width="0.45" fill="none"/>
<rect x="114.61" y="207.60" width="6.07" height="6.81" fill="#F3A7C6" stroke="#767676" stroke-width="0.45"/>
<path d="M116.14 213.57H119.14M117.64 213.57V215.25M116.14 215.25H119.14" stroke="#555" stroke-width="0.45" fill="none"/>
<rect x="121.21" y="207.60" width="6.07" height="2.63" fill="#F3A7C6" stroke="#767676" stroke-width="0.45"/>
<path d="M122.74 209.47H125.74M124.24 209.47V210.98M122.74 210.98H125.74" stroke="#555" stroke-width="0.45" fill="none"/>
<text x="90.80" y="170.8" font-size="7.65" font-style="italic" class="st">PdMYB2R032</text>
<rect x="131.40" y="172.80" width="47.50" height="49.20" fill="#F5F5F1"/>
<path d="M135.36 172.80V222.00M138.66 172.80V222.00M141.96 172.80V222.00M145.25 172.80V222.00M148.55 172.80V222.00M151.85 172.80V222.00M155.15 172.80V222.00M158.45 172.80V222.00M161.75 172.80V222.00M165.05 172.80V222.00M168.34 172.80V222.00M171.64 172.80V222.00M174.94 172.80V222.00M178.24 172.80V222.00M131.40 219.55H178.90M131.40 213.57H178.90M131.40 207.60H178.90M131.40 201.62H178.90M131.40 195.65H178.90M131.40 189.68H178.90M131.40 183.70H178.90M131.40 177.72H178.90" stroke="#FFFFFF" stroke-width="0.45" fill="none"/>
<rect x="133.06" y="207.05" width="4.6" height="1.10" fill="#9a9a9a"/>
<rect x="138.92" y="204.85" width="6.07" height="2.75" fill="#F3A7C6" stroke="#767676" stroke-width="0.45"/>
<path d="M140.46 204.09H143.46M141.96 204.09V205.61M140.46 205.61H143.46" stroke="#555" stroke-width="0.45" fill="none"/>
<rect x="145.52" y="187.88" width="6.07" height="19.72" fill="#F3A7C6" stroke="#767676" stroke-width="0.45"/>
<path d="M147.05 186.77H150.05M148.55 186.77V188.99M147.05 188.99H150.05" stroke="#555" stroke-width="0.45" fill="none"/>
<rect x="152.12" y="195.65" width="6.07" height="11.95" fill="#F3A7C6" stroke="#767676" stroke-width="0.45"/>
<path d="M153.65 194.70H156.65M155.15 194.70V196.60M153.65 196.60H156.65" stroke="#555" stroke-width="0.45" fill="none"/>
<rect x="158.71" y="207.60" width="6.07" height="0.60" fill="#F3A7C6" stroke="#767676" stroke-width="0.45"/>
<path d="M160.25 207.49H163.25M161.75 207.49V208.91M160.25 208.91H163.25" stroke="#555" stroke-width="0.45" fill="none"/>
<rect x="165.31" y="204.85" width="6.07" height="2.75" fill="#F3A7C6" stroke="#767676" stroke-width="0.45"/>
<path d="M166.84 204.09H169.84M168.34 204.09V205.61M166.84 205.61H169.84" stroke="#555" stroke-width="0.45" fill="none"/>
<rect x="171.91" y="205.45" width="6.07" height="2.15" fill="#F3A7C6" stroke="#767676" stroke-width="0.45"/>
<path d="M173.44 204.70H176.44M174.94 204.70V206.19M173.44 206.19H176.44" stroke="#555" stroke-width="0.45" fill="none"/>
<text x="141.50" y="170.8" font-size="7.65" font-style="italic" class="st">PdMYB2R033</text>
<rect x="182.10" y="172.80" width="47.50" height="49.20" fill="#F5F5F1"/>
<path d="M186.06 172.80V222.00M189.36 172.80V222.00M192.66 172.80V222.00M195.95 172.80V222.00M199.25 172.80V222.00M202.55 172.80V222.00M205.85 172.80V222.00M209.15 172.80V222.00M212.45 172.80V222.00M215.75 172.80V222.00M219.04 172.80V222.00M222.34 172.80V222.00M225.64 172.80V222.00M228.94 172.80V222.00M182.10 219.55H229.60M182.10 213.57H229.60M182.10 207.60H229.60M182.10 201.62H229.60M182.10 195.65H229.60M182.10 189.68H229.60M182.10 183.70H229.60M182.10 177.72H229.60" stroke="#FFFFFF" stroke-width="0.45" fill="none"/>
<rect x="183.76" y="207.05" width="4.6" height="1.10" fill="#9a9a9a"/>
<rect x="189.62" y="204.01" width="6.07" height="3.59" fill="#F3A7C6" stroke="#767676" stroke-width="0.45"/>
<path d="M191.16 203.24H194.16M192.66 203.24V204.79M191.16 204.79H194.16" stroke="#555" stroke-width="0.45" fill="none"/>
<rect x="196.22" y="183.70" width="6.07" height="23.90" fill="#F3A7C6" stroke="#767676" stroke-width="0.45"/>
<path d="M197.75 182.50H200.75M199.25 182.50V184.90M197.75 184.90H200.75" stroke="#555" stroke-width="0.45" fill="none"/>
<rect x="202.82" y="192.90" width="6.07" height="14.70" fill="#F3A7C6" stroke="#767676" stroke-width="0.45"/>
<path d="M204.35 191.90H207.35M205.85 191.90V193.91M204.35 193.91H207.35" stroke="#555" stroke-width="0.45" fill="none"/>
<rect x="209.41" y="200.91" width="6.07" height="6.69" fill="#F3A7C6" stroke="#767676" stroke-width="0.45"/>
<path d="M210.95 200.07H213.95M212.45 200.07V201.75M210.95 201.75H213.95" stroke="#555" stroke-width="0.45" fill="none"/>
<rect x="216.01" y="207.12" width="6.07" height="0.48" fill="#F3A7C6" stroke="#767676" stroke-width="0.45"/>
<path d="M217.54 206.41H220.54M219.04 206.41V207.83M217.54 207.83H220.54" stroke="#555" stroke-width="0.45" fill="none"/>
<rect x="222.61" y="207.12" width="6.07" height="0.48" fill="#F3A7C6" stroke="#767676" stroke-width="0.45"/>
<path d="M224.14 206.41H227.14M225.64 206.41V207.83M224.14 207.83H227.14" stroke="#555" stroke-width="0.45" fill="none"/>
<text x="192.20" y="170.8" font-size="7.65" font-style="italic" class="st">PdMYB2R060</text>
<rect x="232.80" y="172.80" width="47.50" height="49.20" fill="#F5F5F1"/>
<path d="M236.76 172.80V222.00M240.06 172.80V222.00M243.36 172.80V222.00M246.65 172.80V222.00M249.95 172.80V222.00M253.25 172.80V222.00M256.55 172.80V222.00M259.85 172.80V222.00M263.15 172.80V222.00M266.45 172.80V222.00M269.74 172.80V222.00M273.04 172.80V222.00M276.34 172.80V222.00M279.64 172.80V222.00M232.80 219.55H280.30M232.80 213.57H280.30M232.80 207.60H280.30M232.80 201.62H280.30M232.80 195.65H280.30M232.80 189.68H280.30M232.80 183.70H280.30M232.80 177.72H280.30" stroke="#FFFFFF" stroke-width="0.45" fill="none"/>
<rect x="234.46" y="207.05" width="4.6" height="1.10" fill="#9a9a9a"/>
<rect x="240.32" y="197.80" width="6.07" height="9.80" fill="#F3A7C6" stroke="#767676" stroke-width="0.45"/>
<path d="M241.86 196.90H244.86M243.36 196.90V198.71M241.86 198.71H244.86" stroke="#555" stroke-width="0.45" fill="none"/>
<rect x="246.92" y="185.25" width="6.07" height="22.35" fill="#F3A7C6" stroke="#767676" stroke-width="0.45"/>
<path d="M248.45 184.09H251.45M249.95 184.09V186.42M248.45 186.42H251.45" stroke="#555" stroke-width="0.45" fill="none"/>
<rect x="253.52" y="185.85" width="6.07" height="21.75" fill="#F3A7C6" stroke="#767676" stroke-width="0.45"/>
<path d="M255.05 184.70H258.05M256.55 184.70V187.00M255.05 187.00H258.05" stroke="#555" stroke-width="0.45" fill="none"/>
<rect x="260.11" y="204.01" width="6.07" height="3.59" fill="#F3A7C6" stroke="#767676" stroke-width="0.45"/>
<path d="M261.65 203.24H264.65M263.15 203.24V204.79M261.65 204.79H264.65" stroke="#555" stroke-width="0.45" fill="none"/>
<rect x="266.71" y="204.85" width="6.07" height="2.75" fill="#F3A7C6" stroke="#767676" stroke-width="0.45"/>
<path d="M268.24 204.09H271.24M269.74 204.09V205.61M268.24 205.61H271.24" stroke="#555" stroke-width="0.45" fill="none"/>
<rect x="273.31" y="199.83" width="6.07" height="7.77" fill="#F3A7C6" stroke="#767676" stroke-width="0.45"/>
<path d="M274.84 198.97H277.84M276.34 198.97V200.69M274.84 200.69H277.84" stroke="#555" stroke-width="0.45" fill="none"/>
<text x="242.90" y="170.8" font-size="7.65" font-style="italic" class="st">PdMYB2R089</text>
<rect x="283.50" y="172.80" width="47.50" height="49.20" fill="#F5F5F1"/>
<path d="M287.46 172.80V222.00M290.76 172.80V222.00M294.06 172.80V222.00M297.35 172.80V222.00M300.65 172.80V222.00M303.95 172.80V222.00M307.25 172.80V222.00M310.55 172.80V222.00M313.85 172.80V222.00M317.15 172.80V222.00M320.44 172.80V222.00M323.74 172.80V222.00M327.04 172.80V222.00M330.34 172.80V222.00M283.50 219.55H331.00M283.50 213.57H331.00M283.50 207.60H331.00M283.50 201.62H331.00M283.50 195.65H331.00M283.50 189.68H331.00M283.50 183.70H331.00M283.50 177.72H331.00" stroke="#FFFFFF" stroke-width="0.45" fill="none"/>
<rect x="285.16" y="207.05" width="4.6" height="1.10" fill="#9a9a9a"/>
<rect x="291.02" y="198.40" width="6.07" height="9.20" fill="#F3A7C6" stroke="#767676" stroke-width="0.45"/>
<path d="M292.56 197.51H295.56M294.06 197.51V199.29M292.56 199.29H295.56" stroke="#555" stroke-width="0.45" fill="none"/>
<rect x="297.62" y="178.08" width="6.07" height="29.52" fill="#F3A7C6" stroke="#767676" stroke-width="0.45"/>
<path d="M299.15 176.77H302.15M300.65 176.77V179.40M299.15 179.40H302.15" stroke="#555" stroke-width="0.45" fill="none"/>
<rect x="304.22" y="190.63" width="6.07" height="16.97" fill="#F3A7C6" stroke="#767676" stroke-width="0.45"/>
<path d="M305.75 189.58H308.75M307.25 189.58V191.68M305.75 191.68H308.75" stroke="#555" stroke-width="0.45" fill="none"/>
<rect x="310.81" y="206.52" width="6.07" height="1.08" fill="#F3A7C6" stroke="#767676" stroke-width="0.45"/>
<path d="M312.35 205.80H315.35M313.85 205.80V207.25M312.35 207.25H315.35" stroke="#555" stroke-width="0.45" fill="none"/>
<rect x="317.41" y="207.60" width="6.07" height="1.43" fill="#F3A7C6" stroke="#767676" stroke-width="0.45"/>
<path d="M318.94 208.30H321.94M320.44 208.30V209.76M318.94 209.76H321.94" stroke="#555" stroke-width="0.45" fill="none"/>
<rect x="324.01" y="207.12" width="6.07" height="0.48" fill="#F3A7C6" stroke="#767676" stroke-width="0.45"/>
<path d="M325.54 206.41H328.54M327.04 206.41V207.83M325.54 207.83H328.54" stroke="#555" stroke-width="0.45" fill="none"/>
<text x="293.60" y="170.8" font-size="7.65" font-style="italic" class="st">PdMYB2R111</text>
<rect x="334.20" y="172.80" width="47.50" height="49.20" fill="#F5F5F1"/>
<path d="M338.16 172.80V222.00M341.46 172.80V222.00M344.76 172.80V222.00M348.05 172.80V222.00M351.35 172.80V222.00M354.65 172.80V222.00M357.95 172.80V222.00M361.25 172.80V222.00M364.55 172.80V222.00M367.85 172.80V222.00M371.14 172.80V222.00M374.44 172.80V222.00M377.74 172.80V222.00M381.04 172.80V222.00M334.20 219.55H381.70M334.20 213.57H381.70M334.20 207.60H381.70M334.20 201.62H381.70M334.20 195.65H381.70M334.20 189.68H381.70M334.20 183.70H381.70M334.20 177.72H381.70" stroke="#FFFFFF" stroke-width="0.45" fill="none"/>
<rect x="335.86" y="207.05" width="4.6" height="1.10" fill="#9a9a9a"/>
<path d="M336.56 207.00H339.76M338.16 207.00V208.20M336.56 208.20H339.76" stroke="#707070" stroke-width="0.45" fill="none"/>
<rect x="341.72" y="207.15" width="6.07" height="0.9" fill="#555" stroke="none"/>
<rect x="348.32" y="196.25" width="6.07" height="11.35" fill="#F3A7C6" stroke="#767676" stroke-width="0.45"/>
<path d="M349.85 195.31H352.85M351.35 195.31V197.18M349.85 197.18H352.85" stroke="#555" stroke-width="0.45" fill="none"/>
<rect x="354.92" y="206.76" width="6.07" height="0.84" fill="#F3A7C6" stroke="#767676" stroke-width="0.45"/>
<path d="M356.45 206.05H359.45M357.95 206.05V207.48M356.45 207.48H359.45" stroke="#555" stroke-width="0.45" fill="none"/>
<rect x="361.51" y="207.60" width="6.07" height="1.43" fill="#F3A7C6" stroke="#767676" stroke-width="0.45"/>
<path d="M363.05 208.30H366.05M364.55 208.30V209.76M363.05 209.76H366.05" stroke="#555" stroke-width="0.45" fill="none"/>
<rect x="368.11" y="207.60" width="6.07" height="10.40" fill="#F3A7C6" stroke="#767676" stroke-width="0.45"/>
<path d="M369.64 217.08H372.64M371.14 217.08V218.91M369.64 218.91H372.64" stroke="#555" stroke-width="0.45" fill="none"/>
<rect x="374.71" y="207.60" width="6.07" height="9.80" fill="#F3A7C6" stroke="#767676" stroke-width="0.45"/>
<path d="M376.24 216.49H379.24M377.74 216.49V218.30M376.24 218.30H379.24" stroke="#555" stroke-width="0.45" fill="none"/>
<text x="344.30" y="170.8" font-size="7.65" font-style="italic" class="st">PdMYB2R119</text>
<rect x="384.90" y="172.80" width="47.50" height="49.20" fill="#F5F5F1"/>
<path d="M388.86 172.80V222.00M392.16 172.80V222.00M395.46 172.80V222.00M398.75 172.80V222.00M402.05 172.80V222.00M405.35 172.80V222.00M408.65 172.80V222.00M411.95 172.80V222.00M415.25 172.80V222.00M418.55 172.80V222.00M421.84 172.80V222.00M425.14 172.80V222.00M428.44 172.80V222.00M431.74 172.80V222.00M384.90 219.55H432.40M384.90 213.57H432.40M384.90 207.60H432.40M384.90 201.62H432.40M384.90 195.65H432.40M384.90 189.68H432.40M384.90 183.70H432.40M384.90 177.72H432.40" stroke="#FFFFFF" stroke-width="0.45" fill="none"/>
<rect x="386.56" y="207.05" width="4.6" height="1.10" fill="#9a9a9a"/>
<rect x="392.42" y="198.40" width="6.07" height="9.20" fill="#F3A7C6" stroke="#767676" stroke-width="0.45"/>
<path d="M393.96 197.51H396.96M395.46 197.51V199.29M393.96 199.29H396.96" stroke="#555" stroke-width="0.45" fill="none"/>
<rect x="399.02" y="176.17" width="6.07" height="31.43" fill="#F3A7C6" stroke="#767676" stroke-width="0.45"/>
<path d="M400.55 174.82H403.55M402.05 174.82V177.53M400.55 177.53H403.55" stroke="#555" stroke-width="0.45" fill="none"/>
<rect x="405.62" y="190.03" width="6.07" height="17.57" fill="#F3A7C6" stroke="#767676" stroke-width="0.45"/>
<path d="M407.15 188.97H410.15M408.65 188.97V191.10M407.15 191.10H410.15" stroke="#555" stroke-width="0.45" fill="none"/>
<rect x="412.21" y="207.36" width="6.07" height="0.24" fill="#F3A7C6" stroke="#767676" stroke-width="0.45"/>
<path d="M413.75 206.66H416.75M415.25 206.66V208.07M413.75 208.07H416.75" stroke="#555" stroke-width="0.45" fill="none"/>
<rect x="418.81" y="207.12" width="6.07" height="0.48" fill="#F3A7C6" stroke="#767676" stroke-width="0.45"/>
<path d="M420.34 206.41H423.34M421.84 206.41V207.83M420.34 207.83H423.34" stroke="#555" stroke-width="0.45" fill="none"/>
<rect x="425.41" y="207.60" width="6.07" height="0.36" fill="#F3A7C6" stroke="#767676" stroke-width="0.45"/>
<path d="M426.94 207.25H429.94M428.44 207.25V208.67M426.94 208.67H429.94" stroke="#555" stroke-width="0.45" fill="none"/>
<text x="395.00" y="170.8" font-size="7.65" font-style="italic" class="st">PdMYB2R123</text>
<rect x="435.60" y="172.80" width="47.50" height="49.20" fill="#F5F5F1"/>
<path d="M439.56 172.80V222.00M442.86 172.80V222.00M446.16 172.80V222.00M449.45 172.80V222.00M452.75 172.80V222.00M456.05 172.80V222.00M459.35 172.80V222.00M462.65 172.80V222.00M465.95 172.80V222.00M469.25 172.80V222.00M472.54 172.80V222.00M475.84 172.80V222.00M479.14 172.80V222.00M482.44 172.80V222.00M435.60 219.55H483.10M435.60 213.57H483.10M435.60 207.60H483.10M435.60 201.62H483.10M435.60 195.65H483.10M435.60 189.68H483.10M435.60 183.70H483.10M435.60 177.72H483.10" stroke="#FFFFFF" stroke-width="0.45" fill="none"/>
<rect x="437.26" y="207.05" width="4.6" height="1.10" fill="#9a9a9a"/>
<rect x="443.12" y="198.40" width="6.07" height="9.20" fill="#F3A7C6" stroke="#767676" stroke-width="0.45"/>
<path d="M444.66 197.51H447.66M446.16 197.51V199.29M444.66 199.29H447.66" stroke="#555" stroke-width="0.45" fill="none"/>
<rect x="449.72" y="190.87" width="6.07" height="16.73" fill="#F3A7C6" stroke="#767676" stroke-width="0.45"/>
<path d="M451.25 189.82H454.25M452.75 189.82V191.92M451.25 191.92H454.25" stroke="#555" stroke-width="0.45" fill="none"/>
<rect x="456.32" y="199.00" width="6.07" height="8.60" fill="#F3A7C6" stroke="#767676" stroke-width="0.45"/>
<path d="M457.85 198.12H460.85M459.35 198.12V199.88M457.85 199.88H460.85" stroke="#555" stroke-width="0.45" fill="none"/>
<rect x="462.91" y="204.85" width="6.07" height="2.75" fill="#F3A7C6" stroke="#767676" stroke-width="0.45"/>
<path d="M464.45 204.09H467.45M465.95 204.09V205.61M464.45 205.61H467.45" stroke="#555" stroke-width="0.45" fill="none"/>
<rect x="469.51" y="206.17" width="6.07" height="1.43" fill="#F3A7C6" stroke="#767676" stroke-width="0.45"/>
<path d="M471.04 205.44H474.04M472.54 205.44V206.90M471.04 206.90H474.04" stroke="#555" stroke-width="0.45" fill="none"/>
<rect x="476.11" y="204.85" width="6.07" height="2.75" fill="#F3A7C6" stroke="#767676" stroke-width="0.45"/>
<path d="M477.64 204.09H480.64M479.14 204.09V205.61M477.64 205.61H480.64" stroke="#555" stroke-width="0.45" fill="none"/>
<text x="445.70" y="170.8" font-size="7.65" font-style="italic" class="st">PdMYB2R151</text>
<rect x="486.30" y="172.80" width="47.50" height="49.20" fill="#F5F5F1"/>
<path d="M490.26 172.80V222.00M493.56 172.80V222.00M496.86 172.80V222.00M500.15 172.80V222.00M503.45 172.80V222.00M506.75 172.80V222.00M510.05 172.80V222.00M513.35 172.80V222.00M516.65 172.80V222.00M519.95 172.80V222.00M523.24 172.80V222.00M526.54 172.80V222.00M529.84 172.80V222.00M533.14 172.80V222.00M486.30 219.55H533.80M486.30 213.57H533.80M486.30 207.60H533.80M486.30 201.62H533.80M486.30 195.65H533.80M486.30 189.68H533.80M486.30 183.70H533.80M486.30 177.72H533.80" stroke="#FFFFFF" stroke-width="0.45" fill="none"/>
<rect x="487.96" y="207.05" width="4.6" height="1.10" fill="#9a9a9a"/>
<rect x="493.82" y="201.03" width="6.07" height="6.57" fill="#F3A7C6" stroke="#767676" stroke-width="0.45"/>
<path d="M495.36 200.19H498.36M496.86 200.19V201.86M495.36 201.86H498.36" stroke="#555" stroke-width="0.45" fill="none"/>
<rect x="500.42" y="199.59" width="6.07" height="8.01" fill="#F3A7C6" stroke="#767676" stroke-width="0.45"/>
<path d="M501.95 198.73H504.95M503.45 198.73V200.46M501.95 200.46H504.95" stroke="#555" stroke-width="0.45" fill="none"/>
<rect x="507.02" y="206.05" width="6.07" height="1.55" fill="#F3A7C6" stroke="#767676" stroke-width="0.45"/>
<path d="M508.55 205.31H511.55M510.05 205.31V206.78M508.55 206.78H511.55" stroke="#555" stroke-width="0.45" fill="none"/>
<rect x="513.61" y="207.60" width="6.07" height="1.79" fill="#F3A7C6" stroke="#767676" stroke-width="0.45"/>
<path d="M515.15 208.66H518.15M516.65 208.66V210.13M515.15 210.13H518.15" stroke="#555" stroke-width="0.45" fill="none"/>
<rect x="520.21" y="207.60" width="6.07" height="5.97" fill="#F3A7C6" stroke="#767676" stroke-width="0.45"/>
<path d="M521.74 212.75H524.74M523.24 212.75V214.40M521.74 214.40H524.74" stroke="#555" stroke-width="0.45" fill="none"/>
<rect x="526.81" y="206.05" width="6.07" height="1.55" fill="#F3A7C6" stroke="#767676" stroke-width="0.45"/>
<path d="M528.34 205.31H531.34M529.84 205.31V206.78M528.34 206.78H531.34" stroke="#555" stroke-width="0.45" fill="none"/>
<text x="496.40" y="170.8" font-size="7.65" font-style="italic" class="st">PdMYB2R176</text>
<text x="26.9" y="185.70" font-size="5.7" text-anchor="end" class="t">100.0</text>
<path d="M27.6 183.70H30" stroke="#555" stroke-width="0.5"/>
<text x="26.9" y="197.65" font-size="5.7" text-anchor="end" class="t">10.0</text>
<path d="M27.6 195.65H30" stroke="#555" stroke-width="0.5"/>
<text x="26.9" y="209.60" font-size="5.7" text-anchor="end" class="t">1.0</text>
<path d="M27.6 207.60H30" stroke="#555" stroke-width="0.5"/>
<text x="26.9" y="221.55" font-size="5.7" text-anchor="end" class="t">0.1</text>
<path d="M27.6 219.55H30" stroke="#555" stroke-width="0.5"/>
<text transform="translate(536.6,200.20) rotate(90)" font-size="7.4" font-weight="bold" text-anchor="middle">Leaf</text>
<rect x="30.00" y="224.20" width="47.50" height="51.00" fill="#F5F5F1"/>
<path d="M33.96 224.20V275.20M37.26 224.20V275.20M40.56 224.20V275.20M43.85 224.20V275.20M47.15 224.20V275.20M50.45 224.20V275.20M53.75 224.20V275.20M57.05 224.20V275.20M60.35 224.20V275.20M63.65 224.20V275.20M66.94 224.20V275.20M70.24 224.20V275.20M73.54 224.20V275.20M76.84 224.20V275.20M30.00 271.35H77.50M30.00 263.82H77.50M30.00 256.30H77.50M30.00 248.78H77.50M30.00 241.25H77.50M30.00 233.73H77.50M30.00 226.20H77.50" stroke="#FFFFFF" stroke-width="0.45" fill="none"/>
<rect x="31.66" y="255.75" width="4.6" height="1.10" fill="#9a9a9a"/>
<path d="M32.36 254.50H35.56M33.96 254.50V258.10M32.36 258.10H35.56" stroke="#707070" stroke-width="0.45" fill="none"/>
<rect x="37.52" y="247.12" width="6.07" height="9.18" fill="#75C3A0" stroke="#767676" stroke-width="0.45"/>
<path d="M39.06 246.23H42.06M40.56 246.23V248.01M39.06 248.01H42.06" stroke="#555" stroke-width="0.45" fill="none"/>
<rect x="44.12" y="244.26" width="6.07" height="12.04" fill="#75C3A0" stroke="#767676" stroke-width="0.45"/>
<path d="M45.65 243.31H48.65M47.15 243.31V245.21M45.65 245.21H48.65" stroke="#555" stroke-width="0.45" fill="none"/>
<rect x="50.72" y="246.37" width="6.07" height="9.93" fill="#75C3A0" stroke="#767676" stroke-width="0.45"/>
<path d="M52.25 245.46H55.25M53.75 245.46V247.27M52.25 247.27H55.25" stroke="#555" stroke-width="0.45" fill="none"/>
<rect x="57.31" y="253.74" width="6.07" height="2.56" fill="#75C3A0" stroke="#767676" stroke-width="0.45"/>
<path d="M58.85 252.99H61.85M60.35 252.99V254.49M58.85 254.49H61.85" stroke="#555" stroke-width="0.45" fill="none"/>
<rect x="63.91" y="254.64" width="6.07" height="1.66" fill="#75C3A0" stroke="#767676" stroke-width="0.45"/>
<path d="M65.44 253.91H68.44M66.94 253.91V255.38M65.44 255.38H68.44" stroke="#555" stroke-width="0.45" fill="none"/>
<rect x="70.51" y="254.95" width="6.07" height="1.35" fill="#75C3A0" stroke="#767676" stroke-width="0.45"/>
<path d="M72.04 254.22H75.04M73.54 254.22V255.67M72.04 255.67H75.04" stroke="#555" stroke-width="0.45" fill="none"/>
<rect x="80.70" y="224.20" width="47.50" height="51.00" fill="#F5F5F1"/>
<path d="M84.66 224.20V275.20M87.96 224.20V275.20M91.26 224.20V275.20M94.55 224.20V275.20M97.85 224.20V275.20M101.15 224.20V275.20M104.45 224.20V275.20M107.75 224.20V275.20M111.05 224.20V275.20M114.35 224.20V275.20M117.64 224.20V275.20M120.94 224.20V275.20M124.24 224.20V275.20M127.54 224.20V275.20M80.70 271.35H128.20M80.70 263.82H128.20M80.70 256.30H128.20M80.70 248.78H128.20M80.70 241.25H128.20M80.70 233.73H128.20M80.70 226.20H128.20" stroke="#FFFFFF" stroke-width="0.45" fill="none"/>
<rect x="82.36" y="255.75" width="4.6" height="1.10" fill="#9a9a9a"/>
<path d="M83.06 254.10H86.26M84.66 254.10V258.50M83.06 258.50H86.26" stroke="#707070" stroke-width="0.45" fill="none"/>
<rect x="88.22" y="252.09" width="6.07" height="4.21" fill="#75C3A0" stroke="#767676" stroke-width="0.45"/>
<path d="M89.76 251.30H92.76M91.26 251.30V252.87M89.76 252.87H92.76" stroke="#555" stroke-width="0.45" fill="none"/>
<rect x="94.82" y="234.63" width="6.07" height="21.67" fill="#75C3A0" stroke="#767676" stroke-width="0.45"/>
<path d="M96.35 233.48H99.35M97.85 233.48V235.78M96.35 235.78H99.35" stroke="#555" stroke-width="0.45" fill="none"/>
<rect x="101.42" y="232.37" width="6.07" height="23.93" fill="#75C3A0" stroke="#767676" stroke-width="0.45"/>
<path d="M102.95 231.17H105.95M104.45 231.17V233.57M102.95 233.57H105.95" stroke="#555" stroke-width="0.45" fill="none"/>
<rect x="108.01" y="253.44" width="6.07" height="2.86" fill="#75C3A0" stroke="#767676" stroke-width="0.45"/>
<path d="M109.55 252.68H112.55M111.05 252.68V254.20M109.55 254.20H112.55" stroke="#555" stroke-width="0.45" fill="none"/>
<rect x="114.61" y="252.09" width="6.07" height="4.21" fill="#75C3A0" stroke="#767676" stroke-width="0.45"/>
<path d="M116.14 251.30H119.14M117.64 251.30V252.87M116.14 252.87H119.14" stroke="#555" stroke-width="0.45" fill="none"/>
<rect x="121.21" y="256.30" width="6.07" height="1.35" fill="#75C3A0" stroke="#767676" stroke-width="0.45"/>
<path d="M122.74 256.93H125.74M124.24 256.93V258.38M122.74 258.38H125.74" stroke="#555" stroke-width="0.45" fill="none"/>
<rect x="131.40" y="224.20" width="47.50" height="51.00" fill="#F5F5F1"/>
<path d="M135.36 224.20V275.20M138.66 224.20V275.20M141.96 224.20V275.20M145.25 224.20V275.20M148.55 224.20V275.20M151.85 224.20V275.20M155.15 224.20V275.20M158.45 224.20V275.20M161.75 224.20V275.20M165.05 224.20V275.20M168.34 224.20V275.20M171.64 224.20V275.20M174.94 224.20V275.20M178.24 224.20V275.20M131.40 271.35H178.90M131.40 263.82H178.90M131.40 256.30H178.90M131.40 248.78H178.90M131.40 241.25H178.90M131.40 233.73H178.90M131.40 226.20H178.90" stroke="#FFFFFF" stroke-width="0.45" fill="none"/>
<rect x="133.06" y="255.75" width="4.6" height="1.10" fill="#9a9a9a"/>
<path d="M133.76 254.90H136.96M135.36 254.90V257.70M133.76 257.70H136.96" stroke="#707070" stroke-width="0.45" fill="none"/>
<rect x="138.92" y="252.69" width="6.07" height="3.61" fill="#75C3A0" stroke="#767676" stroke-width="0.45"/>
<path d="M140.46 251.91H143.46M141.96 251.91V253.46M140.46 253.46H143.46" stroke="#555" stroke-width="0.45" fill="none"/>
<rect x="145.52" y="234.63" width="6.07" height="21.67" fill="#75C3A0" stroke="#767676" stroke-width="0.45"/>
<path d="M147.05 233.48H150.05M148.55 233.48V235.78M147.05 235.78H150.05" stroke="#555" stroke-width="0.45" fill="none"/>
<rect x="152.12" y="242.91" width="6.07" height="13.39" fill="#75C3A0" stroke="#767676" stroke-width="0.45"/>
<path d="M153.65 241.93H156.65M155.15 241.93V243.88M153.65 243.88H156.65" stroke="#555" stroke-width="0.45" fill="none"/>
<rect x="158.71" y="246.52" width="6.07" height="9.78" fill="#75C3A0" stroke="#767676" stroke-width="0.45"/>
<path d="M160.25 245.61H163.25M161.75 245.61V247.42M160.25 247.42H163.25" stroke="#555" stroke-width="0.45" fill="none"/>
<rect x="165.31" y="245.16" width="6.07" height="11.14" fill="#75C3A0" stroke="#767676" stroke-width="0.45"/>
<path d="M166.84 244.23H169.84M168.34 244.23V246.10M166.84 246.10H169.84" stroke="#555" stroke-width="0.45" fill="none"/>
<rect x="171.91" y="249.08" width="6.07" height="7.22" fill="#75C3A0" stroke="#767676" stroke-width="0.45"/>
<path d="M173.44 248.23H176.44M174.94 248.23V249.93M173.44 249.93H176.44" stroke="#555" stroke-width="0.45" fill="none"/>
<rect x="182.10" y="224.20" width="47.50" height="51.00" fill="#F5F5F1"/>
<path d="M186.06 224.20V275.20M189.36 224.20V275.20M192.66 224.20V275.20M195.95 224.20V275.20M199.25 224.20V275.20M202.55 224.20V275.20M205.85 224.20V275.20M209.15 224.20V275.20M212.45 224.20V275.20M215.75 224.20V275.20M219.04 224.20V275.20M222.34 224.20V275.20M225.64 224.20V275.20M228.94 224.20V275.20M182.10 271.35H229.60M182.10 263.82H229.60M182.10 256.30H229.60M182.10 248.78H229.60M182.10 241.25H229.60M182.10 233.73H229.60M182.10 226.20H229.60" stroke="#FFFFFF" stroke-width="0.45" fill="none"/>
<rect x="183.76" y="255.75" width="4.6" height="1.10" fill="#9a9a9a"/>
<path d="M184.46 254.30H187.66M186.06 254.30V258.30M184.46 258.30H187.66" stroke="#707070" stroke-width="0.45" fill="none"/>
<rect x="189.62" y="256.30" width="6.07" height="6.92" fill="#75C3A0" stroke="#767676" stroke-width="0.45"/>
<path d="M191.16 262.38H194.16M192.66 262.38V264.07M191.16 264.07H194.16" stroke="#555" stroke-width="0.45" fill="none"/>
<rect x="196.22" y="235.38" width="6.07" height="20.92" fill="#75C3A0" stroke="#767676" stroke-width="0.45"/>
<path d="M197.75 234.24H200.75M199.25 234.24V236.52M197.75 236.52H200.75" stroke="#555" stroke-width="0.45" fill="none"/>
<rect x="202.82" y="247.87" width="6.07" height="8.43" fill="#75C3A0" stroke="#767676" stroke-width="0.45"/>
<path d="M204.35 247.00H207.35M205.85 247.00V248.75M204.35 248.75H207.35" stroke="#555" stroke-width="0.45" fill="none"/>
<rect x="209.41" y="251.94" width="6.07" height="4.36" fill="#75C3A0" stroke="#767676" stroke-width="0.45"/>
<path d="M210.95 251.14H213.95M212.45 251.14V252.73M210.95 252.73H213.95" stroke="#555" stroke-width="0.45" fill="none"/>
<rect x="216.01" y="249.38" width="6.07" height="6.92" fill="#75C3A0" stroke="#767676" stroke-width="0.45"/>
<path d="M217.54 248.53H220.54M219.04 248.53V250.22M217.54 250.22H220.54" stroke="#555" stroke-width="0.45" fill="none"/>
<rect x="222.61" y="252.69" width="6.07" height="3.61" fill="#75C3A0" stroke="#767676" stroke-width="0.45"/>
<path d="M224.14 251.91H227.14M225.64 251.91V253.46M224.14 253.46H227.14" stroke="#555" stroke-width="0.45" fill="none"/>
<rect x="232.80" y="224.20" width="47.50" height="51.00" fill="#F5F5F1"/>
<path d="M236.76 224.20V275.20M240.06 224.20V275.20M243.36 224.20V275.20M246.65 224.20V275.20M249.95 224.20V275.20M253.25 224.20V275.20M256.55 224.20V275.20M259.85 224.20V275.20M263.15 224.20V275.20M266.45 224.20V275.20M269.74 224.20V275.20M273.04 224.20V275.20M276.34 224.20V275.20M279.64 224.20V275.20M232.80 271.35H280.30M232.80 263.82H280.30M232.80 256.30H280.30M232.80 248.78H280.30M232.80 241.25H280.30M232.80 233.73H280.30M232.80 226.20H280.30" stroke="#FFFFFF" stroke-width="0.45" fill="none"/>
<rect x="234.46" y="255.75" width="4.6" height="1.10" fill="#9a9a9a"/>
<path d="M235.16 254.50H238.36M236.76 254.50V258.10M235.16 258.10H238.36" stroke="#707070" stroke-width="0.45" fill="none"/>
<rect x="241.06" y="255.75" width="4.6" height="1.10" fill="#9a9a9a"/>
<path d="M241.76 254.70H244.96M243.36 254.70V257.90M241.76 257.90H244.96" stroke="#707070" stroke-width="0.45" fill="none"/>
<rect x="246.92" y="243.81" width="6.07" height="12.49" fill="#75C3A0" stroke="#767676" stroke-width="0.45"/>
<path d="M248.45 242.85H251.45M249.95 242.85V244.77M248.45 244.77H251.45" stroke="#555" stroke-width="0.45" fill="none"/>
<rect x="253.52" y="236.58" width="6.07" height="19.72" fill="#75C3A0" stroke="#767676" stroke-width="0.45"/>
<path d="M255.05 235.47H258.05M256.55 235.47V237.70M255.05 237.70H258.05" stroke="#555" stroke-width="0.45" fill="none"/>
<rect x="260.11" y="251.03" width="6.07" height="5.27" fill="#75C3A0" stroke="#767676" stroke-width="0.45"/>
<path d="M261.65 250.22H264.65M263.15 250.22V251.84M261.65 251.84H264.65" stroke="#555" stroke-width="0.45" fill="none"/>
<rect x="266.71" y="252.09" width="6.07" height="4.21" fill="#75C3A0" stroke="#767676" stroke-width="0.45"/>
<path d="M268.24 251.30H271.24M269.74 251.30V252.87M268.24 252.87H271.24" stroke="#555" stroke-width="0.45" fill="none"/>
<rect x="273.31" y="251.94" width="6.07" height="4.36" fill="#75C3A0" stroke="#767676" stroke-width="0.45"/>
<path d="M274.84 251.14H277.84M276.34 251.14V252.73M274.84 252.73H277.84" stroke="#555" stroke-width="0.45" fill="none"/>
<rect x="283.50" y="224.20" width="47.50" height="51.00" fill="#F5F5F1"/>
<path d="M287.46 224.20V275.20M290.76 224.20V275.20M294.06 224.20V275.20M297.35 224.20V275.20M300.65 224.20V275.20M303.95 224.20V275.20M307.25 224.20V275.20M310.55 224.20V275.20M313.85 224.20V275.20M317.15 224.20V275.20M320.44 224.20V275.20M323.74 224.20V275.20M327.04 224.20V275.20M330.34 224.20V275.20M283.50 271.35H331.00M283.50 263.82H331.00M283.50 256.30H331.00M283.50 248.78H331.00M283.50 241.25H331.00M283.50 233.73H331.00M283.50 226.20H331.00" stroke="#FFFFFF" stroke-width="0.45" fill="none"/>
<rect x="285.16" y="255.75" width="4.6" height="1.10" fill="#9a9a9a"/>
<rect x="291.02" y="240.20" width="6.07" height="16.10" fill="#75C3A0" stroke="#767676" stroke-width="0.45"/>
<path d="M292.56 239.16H295.56M294.06 239.16V241.23M292.56 241.23H295.56" stroke="#555" stroke-width="0.45" fill="none"/>
<rect x="297.62" y="229.66" width="6.07" height="26.64" fill="#75C3A0" stroke="#767676" stroke-width="0.45"/>
<path d="M299.15 228.41H302.15M300.65 228.41V230.92M299.15 230.92H302.15" stroke="#555" stroke-width="0.45" fill="none"/>
<rect x="304.22" y="234.03" width="6.07" height="22.27" fill="#75C3A0" stroke="#767676" stroke-width="0.45"/>
<path d="M305.75 232.86H308.75M307.25 232.86V235.19M305.75 235.19H308.75" stroke="#555" stroke-width="0.45" fill="none"/>
<rect x="310.81" y="244.41" width="6.07" height="11.89" fill="#75C3A0" stroke="#767676" stroke-width="0.45"/>
<path d="M312.35 243.46H315.35M313.85 243.46V245.36M312.35 245.36H315.35" stroke="#555" stroke-width="0.45" fill="none"/>
<rect x="317.41" y="239.29" width="6.07" height="17.01" fill="#75C3A0" stroke="#767676" stroke-width="0.45"/>
<path d="M318.94 238.24H321.94M320.44 238.24V240.35M318.94 240.35H321.94" stroke="#555" stroke-width="0.45" fill="none"/>
<rect x="324.01" y="246.52" width="6.07" height="9.78" fill="#75C3A0" stroke="#767676" stroke-width="0.45"/>
<path d="M325.54 245.61H328.54M327.04 245.61V247.42M325.54 247.42H328.54" stroke="#555" stroke-width="0.45" fill="none"/>
<rect x="334.20" y="224.20" width="47.50" height="51.00" fill="#F5F5F1"/>
<path d="M338.16 224.20V275.20M341.46 224.20V275.20M344.76 224.20V275.20M348.05 224.20V275.20M351.35 224.20V275.20M354.65 224.20V275.20M357.95 224.20V275.20M361.25 224.20V275.20M364.55 224.20V275.20M367.85 224.20V275.20M371.14 224.20V275.20M374.44 224.20V275.20M377.74 224.20V275.20M381.04 224.20V275.20M334.20 271.35H381.70M334.20 263.82H381.70M334.20 256.30H381.70M334.20 248.78H381.70M334.20 241.25H381.70M334.20 233.73H381.70M334.20 226.20H381.70" stroke="#FFFFFF" stroke-width="0.45" fill="none"/>
<rect x="335.86" y="255.75" width="4.6" height="1.10" fill="#9a9a9a"/>
<path d="M336.56 255.30H339.76M338.16 255.30V257.30M336.56 257.30H339.76" stroke="#707070" stroke-width="0.45" fill="none"/>
<rect x="341.72" y="241.55" width="6.07" height="14.75" fill="#75C3A0" stroke="#767676" stroke-width="0.45"/>
<path d="M343.26 240.54H346.26M344.76 240.54V242.56M343.26 242.56H346.26" stroke="#555" stroke-width="0.45" fill="none"/>
<rect x="348.32" y="235.98" width="6.07" height="20.32" fill="#75C3A0" stroke="#767676" stroke-width="0.45"/>
<path d="M349.85 234.86H352.85M351.35 234.86V237.11M349.85 237.11H352.85" stroke="#555" stroke-width="0.45" fill="none"/>
<rect x="354.92" y="242.30" width="6.07" height="14.00" fill="#75C3A0" stroke="#767676" stroke-width="0.45"/>
<path d="M356.45 241.31H359.45M357.95 241.31V243.30M356.45 243.30H359.45" stroke="#555" stroke-width="0.45" fill="none"/>
<rect x="361.51" y="251.63" width="6.07" height="4.67" fill="#75C3A0" stroke="#767676" stroke-width="0.45"/>
<path d="M363.05 250.84H366.05M364.55 250.84V252.43M363.05 252.43H366.05" stroke="#555" stroke-width="0.45" fill="none"/>
<rect x="368.11" y="254.64" width="6.07" height="1.66" fill="#75C3A0" stroke="#767676" stroke-width="0.45"/>
<path d="M369.64 253.91H372.64M371.14 253.91V255.38M369.64 255.38H372.64" stroke="#555" stroke-width="0.45" fill="none"/>
<rect x="374.71" y="252.69" width="6.07" height="3.61" fill="#75C3A0" stroke="#767676" stroke-width="0.45"/>
<path d="M376.24 251.91H379.24M377.74 251.91V253.46M376.24 253.46H379.24" stroke="#555" stroke-width="0.45" fill="none"/>
<rect x="384.90" y="224.20" width="47.50" height="51.00" fill="#F5F5F1"/>
<path d="M388.86 224.20V275.20M392.16 224.20V275.20M395.46 224.20V275.20M398.75 224.20V275.20M402.05 224.20V275.20M405.35 224.20V275.20M408.65 224.20V275.20M411.95 224.20V275.20M415.25 224.20V275.20M418.55 224.20V275.20M421.84 224.20V275.20M425.14 224.20V275.20M428.44 224.20V275.20M431.74 224.20V275.20M384.90 271.35H432.40M384.90 263.82H432.40M384.90 256.30H432.40M384.90 248.78H432.40M384.90 241.25H432.40M384.90 233.73H432.40M384.90 226.20H432.40" stroke="#FFFFFF" stroke-width="0.45" fill="none"/>
<rect x="386.56" y="255.75" width="4.6" height="1.10" fill="#9a9a9a"/>
<path d="M387.26 254.90H390.46M388.86 254.90V257.70M387.26 257.70H390.46" stroke="#707070" stroke-width="0.45" fill="none"/>
<rect x="392.42" y="256.30" width="6.07" height="4.06" fill="#75C3A0" stroke="#767676" stroke-width="0.45"/>
<path d="M393.96 259.58H396.96M395.46 259.58V261.15M393.96 261.15H396.96" stroke="#555" stroke-width="0.45" fill="none"/>
<rect x="399.02" y="232.52" width="6.07" height="23.78" fill="#75C3A0" stroke="#767676" stroke-width="0.45"/>
<path d="M400.55 231.33H403.55M402.05 231.33V233.72M400.55 233.72H403.55" stroke="#555" stroke-width="0.45" fill="none"/>
<rect x="405.62" y="241.55" width="6.07" height="14.75" fill="#75C3A0" stroke="#767676" stroke-width="0.45"/>
<path d="M407.15 240.54H410.15M408.65 240.54V242.56M407.15 242.56H410.15" stroke="#555" stroke-width="0.45" fill="none"/>
<rect x="412.21" y="253.44" width="6.07" height="2.86" fill="#75C3A0" stroke="#767676" stroke-width="0.45"/>
<path d="M413.75 252.68H416.75M415.25 252.68V254.20M413.75 254.20H416.75" stroke="#555" stroke-width="0.45" fill="none"/>
<rect x="418.81" y="253.44" width="6.07" height="2.86" fill="#75C3A0" stroke="#767676" stroke-width="0.45"/>
<path d="M420.34 252.68H423.34M421.84 252.68V254.20M420.34 254.20H423.34" stroke="#555" stroke-width="0.45" fill="none"/>
<rect x="425.41" y="255.55" width="6.07" height="0.75" fill="#75C3A0" stroke="#767676" stroke-width="0.45"/>
<path d="M426.94 254.83H429.94M428.44 254.83V256.26M426.94 256.26H429.94" stroke="#555" stroke-width="0.45" fill="none"/>
<rect x="435.60" y="224.20" width="47.50" height="51.00" fill="#F5F5F1"/>
<path d="M439.56 224.20V275.20M442.86 224.20V275.20M446.16 224.20V275.20M449.45 224.20V275.20M452.75 224.20V275.20M456.05 224.20V275.20M459.35 224.20V275.20M462.65 224.20V275.20M465.95 224.20V275.20M469.25 224.20V275.20M472.54 224.20V275.20M475.84 224.20V275.20M479.14 224.20V275.20M482.44 224.20V275.20M435.60 271.35H483.10M435.60 263.82H483.10M435.60 256.30H483.10M435.60 248.78H483.10M435.60 241.25H483.10M435.60 233.73H483.10M435.60 226.20H483.10" stroke="#FFFFFF" stroke-width="0.45" fill="none"/>
<rect x="437.26" y="255.75" width="4.6" height="1.10" fill="#9a9a9a"/>
<path d="M437.96 254.90H441.16M439.56 254.90V257.70M437.96 257.70H441.16" stroke="#707070" stroke-width="0.45" fill="none"/>
<rect x="443.12" y="246.37" width="6.07" height="9.93" fill="#75C3A0" stroke="#767676" stroke-width="0.45"/>
<path d="M444.66 245.46H447.66M446.16 245.46V247.27M444.66 247.27H447.66" stroke="#555" stroke-width="0.45" fill="none"/>
<rect x="449.72" y="245.77" width="6.07" height="10.53" fill="#75C3A0" stroke="#767676" stroke-width="0.45"/>
<path d="M451.25 244.85H454.25M452.75 244.85V246.68M451.25 246.68H454.25" stroke="#555" stroke-width="0.45" fill="none"/>
<rect x="456.32" y="247.12" width="6.07" height="9.18" fill="#75C3A0" stroke="#767676" stroke-width="0.45"/>
<path d="M457.85 246.23H460.85M459.35 246.23V248.01M457.85 248.01H460.85" stroke="#555" stroke-width="0.45" fill="none"/>
<rect x="462.91" y="255.85" width="6.07" height="0.9" fill="#555" stroke="none"/>
<rect x="469.51" y="255.25" width="6.07" height="1.05" fill="#75C3A0" stroke="#767676" stroke-width="0.45"/>
<path d="M471.04 254.52H474.04M472.54 254.52V255.97M471.04 255.97H474.04" stroke="#555" stroke-width="0.45" fill="none"/>
<rect x="476.11" y="255.85" width="6.07" height="0.9" fill="#555" stroke="none"/>
<rect x="486.30" y="224.20" width="47.50" height="51.00" fill="#F5F5F1"/>
<path d="M490.26 224.20V275.20M493.56 224.20V275.20M496.86 224.20V275.20M500.15 224.20V275.20M503.45 224.20V275.20M506.75 224.20V275.20M510.05 224.20V275.20M513.35 224.20V275.20M516.65 224.20V275.20M519.95 224.20V275.20M523.24 224.20V275.20M526.54 224.20V275.20M529.84 224.20V275.20M533.14 224.20V275.20M486.30 271.35H533.80M486.30 263.82H533.80M486.30 256.30H533.80M486.30 248.78H533.80M486.30 241.25H533.80M486.30 233.73H533.80M486.30 226.20H533.80" stroke="#FFFFFF" stroke-width="0.45" fill="none"/>
<rect x="487.96" y="255.75" width="4.6" height="1.10" fill="#9a9a9a"/>
<path d="M488.66 254.90H491.86M490.26 254.90V257.70M488.66 257.70H491.86" stroke="#707070" stroke-width="0.45" fill="none"/>
<rect x="493.82" y="256.30" width="6.07" height="2.26" fill="#75C3A0" stroke="#767676" stroke-width="0.45"/>
<path d="M495.36 257.81H498.36M496.86 257.81V259.30M495.36 259.30H498.36" stroke="#555" stroke-width="0.45" fill="none"/>
<rect x="500.42" y="251.48" width="6.07" height="4.82" fill="#75C3A0" stroke="#767676" stroke-width="0.45"/>
<path d="M501.95 250.68H504.95M503.45 250.68V252.28M501.95 252.28H504.95" stroke="#555" stroke-width="0.45" fill="none"/>
<rect x="507.02" y="256.30" width="6.07" height="3.31" fill="#75C3A0" stroke="#767676" stroke-width="0.45"/>
<path d="M508.55 258.84H511.55M510.05 258.84V260.38M508.55 260.38H511.55" stroke="#555" stroke-width="0.45" fill="none"/>
<rect x="513.61" y="256.30" width="6.07" height="2.26" fill="#75C3A0" stroke="#767676" stroke-width="0.45"/>
<path d="M515.15 257.81H518.15M516.65 257.81V259.30M515.15 259.30H518.15" stroke="#555" stroke-width="0.45" fill="none"/>
<rect x="520.21" y="256.30" width="6.07" height="14.15" fill="#75C3A0" stroke="#767676" stroke-width="0.45"/>
<path d="M521.74 269.45H524.74M523.24 269.45V271.44M521.74 271.44H524.74" stroke="#555" stroke-width="0.45" fill="none"/>
<rect x="526.81" y="256.30" width="6.07" height="8.73" fill="#75C3A0" stroke="#767676" stroke-width="0.45"/>
<path d="M528.34 264.15H531.34M529.84 264.15V265.91M528.34 265.91H531.34" stroke="#555" stroke-width="0.45" fill="none"/>
<text x="26.9" y="228.20" font-size="5.7" text-anchor="end" class="t">100.0</text>
<path d="M27.6 226.20H30" stroke="#555" stroke-width="0.5"/>
<text x="26.9" y="243.25" font-size="5.7" text-anchor="end" class="t">10.0</text>
<path d="M27.6 241.25H30" stroke="#555" stroke-width="0.5"/>
<text x="26.9" y="258.30" font-size="5.7" text-anchor="end" class="t">1.0</text>
<path d="M27.6 256.30H30" stroke="#555" stroke-width="0.5"/>
<text x="26.9" y="273.35" font-size="5.7" text-anchor="end" class="t">0.1</text>
<path d="M27.6 271.35H30" stroke="#555" stroke-width="0.5"/>
<text transform="translate(536.6,252.50) rotate(90)" font-size="7.4" font-weight="bold" text-anchor="middle">Root</text>
<rect x="30.00" y="278.80" width="47.50" height="46.80" fill="#F5F5F1"/>
<path d="M33.96 278.80V325.60M37.26 278.80V325.60M40.56 278.80V325.60M43.85 278.80V325.60M47.15 278.80V325.60M50.45 278.80V325.60M53.75 278.80V325.60M57.05 278.80V325.60M60.35 278.80V325.60M63.65 278.80V325.60M66.94 278.80V325.60M70.24 278.80V325.60M73.54 278.80V325.60M76.84 278.80V325.60M30.00 322.00H77.50M30.00 314.00H77.50M30.00 306.00H77.50M30.00 298.00H77.50M30.00 290.00H77.50M30.00 282.00H77.50" stroke="#FFFFFF" stroke-width="0.45" fill="none"/>
<rect x="31.66" y="305.20" width="4.6" height="1.60" fill="#7a7a7a"/>
<rect x="37.52" y="302.64" width="6.07" height="3.36" fill="#74BAD1" stroke="#767676" stroke-width="0.45"/>
<path d="M39.06 301.87H42.06M40.56 301.87V303.41M39.06 303.41H42.06" stroke="#555" stroke-width="0.45" fill="none"/>
<rect x="44.12" y="299.76" width="6.07" height="6.24" fill="#74BAD1" stroke="#767676" stroke-width="0.45"/>
<path d="M45.65 298.93H48.65M47.15 298.93V300.59M45.65 300.59H48.65" stroke="#555" stroke-width="0.45" fill="none"/>
<rect x="50.72" y="281.36" width="6.07" height="24.64" fill="#74BAD1" stroke="#767676" stroke-width="0.45"/>
<path d="M52.25 280.15H55.25M53.75 280.15V282.57M52.25 282.57H55.25" stroke="#555" stroke-width="0.45" fill="none"/>
<rect x="57.31" y="306.00" width="6.07" height="4.16" fill="#74BAD1" stroke="#767676" stroke-width="0.45"/>
<path d="M58.85 309.37H61.85M60.35 309.37V310.95M58.85 310.95H61.85" stroke="#555" stroke-width="0.45" fill="none"/>
<rect x="63.91" y="306.00" width="6.07" height="2.24" fill="#74BAD1" stroke="#767676" stroke-width="0.45"/>
<path d="M65.44 307.49H68.44M66.94 307.49V308.99M65.44 308.99H68.44" stroke="#555" stroke-width="0.45" fill="none"/>
<rect x="70.51" y="306.00" width="6.07" height="4.48" fill="#74BAD1" stroke="#767676" stroke-width="0.45"/>
<path d="M72.04 309.69H75.04M73.54 309.69V311.27M72.04 311.27H75.04" stroke="#555" stroke-width="0.45" fill="none"/>
<text transform="translate(35.06,330.4) rotate(-45)" font-size="5.7" class="t" text-anchor="middle" dy="1.9">0</text>
<path d="M33.96 325.6V327.4" stroke="#555" stroke-width="0.5"/>
<text transform="translate(41.66,330.4) rotate(-45)" font-size="5.7" class="t" text-anchor="middle" dy="1.9">1</text>
<path d="M40.56 325.6V327.4" stroke="#555" stroke-width="0.5"/>
<text transform="translate(48.25,330.4) rotate(-45)" font-size="5.7" class="t" text-anchor="middle" dy="1.9">6</text>
<path d="M47.15 325.6V327.4" stroke="#555" stroke-width="0.5"/>
<text transform="translate(54.85,330.4) rotate(-45)" font-size="5.7" class="t" text-anchor="middle" dy="1.9">12</text>
<path d="M53.75 325.6V327.4" stroke="#555" stroke-width="0.5"/>
<text transform="translate(61.45,330.4) rotate(-45)" font-size="5.7" class="t" text-anchor="middle" dy="1.9">24</text>
<path d="M60.35 325.6V327.4" stroke="#555" stroke-width="0.5"/>
<text transform="translate(68.04,330.4) rotate(-45)" font-size="5.7" class="t" text-anchor="middle" dy="1.9">72</text>
<path d="M66.94 325.6V327.4" stroke="#555" stroke-width="0.5"/>
<text transform="translate(74.64,330.4) rotate(-45)" font-size="5.7" class="t" text-anchor="middle" dy="1.9">120</text>
<path d="M73.54 325.6V327.4" stroke="#555" stroke-width="0.5"/>
<rect x="80.70" y="278.80" width="47.50" height="46.80" fill="#F5F5F1"/>
<path d="M84.66 278.80V325.60M87.96 278.80V325.60M91.26 278.80V325.60M94.55 278.80V325.60M97.85 278.80V325.60M101.15 278.80V325.60M104.45 278.80V325.60M107.75 278.80V325.60M111.05 278.80V325.60M114.35 278.80V325.60M117.64 278.80V325.60M120.94 278.80V325.60M124.24 278.80V325.60M127.54 278.80V325.60M80.70 322.00H128.20M80.70 314.00H128.20M80.70 306.00H128.20M80.70 298.00H128.20M80.70 290.00H128.20M80.70 282.00H128.20" stroke="#FFFFFF" stroke-width="0.45" fill="none"/>
<rect x="82.36" y="305.20" width="4.6" height="1.60" fill="#7a7a7a"/>
<rect x="88.22" y="306.00" width="6.07" height="3.52" fill="#74BAD1" stroke="#767676" stroke-width="0.45"/>
<path d="M89.76 308.75H92.76M91.26 308.75V310.29M89.76 310.29H92.76" stroke="#555" stroke-width="0.45" fill="none"/>
<rect x="94.82" y="296.24" width="6.07" height="9.76" fill="#74BAD1" stroke="#767676" stroke-width="0.45"/>
<path d="M96.35 295.34H99.35M97.85 295.34V297.14M96.35 297.14H99.35" stroke="#555" stroke-width="0.45" fill="none"/>
<rect x="101.42" y="281.68" width="6.07" height="24.32" fill="#74BAD1" stroke="#767676" stroke-width="0.45"/>
<path d="M102.95 280.47H105.95M104.45 280.47V282.89M102.95 282.89H105.95" stroke="#555" stroke-width="0.45" fill="none"/>
<rect x="108.01" y="306.00" width="6.07" height="11.36" fill="#74BAD1" stroke="#767676" stroke-width="0.45"/>
<path d="M109.55 316.42H112.55M111.05 316.42V318.30M109.55 318.30H112.55" stroke="#555" stroke-width="0.45" fill="none"/>
<rect x="114.61" y="306.00" width="6.07" height="7.20" fill="#74BAD1" stroke="#767676" stroke-width="0.45"/>
<path d="M116.14 312.35H119.14M117.64 312.35V314.05M116.14 314.05H119.14" stroke="#555" stroke-width="0.45" fill="none"/>
<rect x="121.21" y="306.00" width="6.07" height="15.68" fill="#74BAD1" stroke="#767676" stroke-width="0.45"/>
<path d="M122.74 320.65H125.74M124.24 320.65V322.71M122.74 322.71H125.74" stroke="#555" stroke-width="0.45" fill="none"/>
<text transform="translate(85.76,330.4) rotate(-45)" font-size="5.7" class="t" text-anchor="middle" dy="1.9">0</text>
<path d="M84.66 325.6V327.4" stroke="#555" stroke-width="0.5"/>
<text transform="translate(92.36,330.4) rotate(-45)" font-size="5.7" class="t" text-anchor="middle" dy="1.9">1</text>
<path d="M91.26 325.6V327.4" stroke="#555" stroke-width="0.5"/>
<text transform="translate(98.95,330.4) rotate(-45)" font-size="5.7" class="t" text-anchor="middle" dy="1.9">6</text>
<path d="M97.85 325.6V327.4" stroke="#555" stroke-width="0.5"/>
<text transform="translate(105.55,330.4) rotate(-45)" font-size="5.7" class="t" text-anchor="middle" dy="1.9">12</text>
<path d="M104.45 325.6V327.4" stroke="#555" stroke-width="0.5"/>
<text transform="translate(112.15,330.4) rotate(-45)" font-size="5.7" class="t" text-anchor="middle" dy="1.9">24</text>
<path d="M111.05 325.6V327.4" stroke="#555" stroke-width="0.5"/>
<text transform="translate(118.74,330.4) rotate(-45)" font-size="5.7" class="t" text-anchor="middle" dy="1.9">72</text>
<path d="M117.64 325.6V327.4" stroke="#555" stroke-width="0.5"/>
<text transform="translate(125.34,330.4) rotate(-45)" font-size="5.7" class="t" text-anchor="middle" dy="1.9">120</text>
<path d="M124.24 325.6V327.4" stroke="#555" stroke-width="0.5"/>
<rect x="131.40" y="278.80" width="47.50" height="46.80" fill="#F5F5F1"/>
<path d="M135.36 278.80V325.60M138.66 278.80V325.60M141.96 278.80V325.60M145.25 278.80V325.60M148.55 278.80V325.60M151.85 278.80V325.60M155.15 278.80V325.60M158.45 278.80V325.60M161.75 278.80V325.60M165.05 278.80V325.60M168.34 278.80V325.60M171.64 278.80V325.60M174.94 278.80V325.60M178.24 278.80V325.60M131.40 322.00H178.90M131.40 314.00H178.90M131.40 306.00H178.90M131.40 298.00H178.90M131.40 290.00H178.90M131.40 282.00H178.90" stroke="#FFFFFF" stroke-width="0.45" fill="none"/>
<rect x="133.06" y="305.20" width="4.6" height="1.60" fill="#7a7a7a"/>
<rect x="138.92" y="306.00" width="6.07" height="11.36" fill="#74BAD1" stroke="#767676" stroke-width="0.45"/>
<path d="M140.46 316.42H143.46M141.96 316.42V318.30M140.46 318.30H143.46" stroke="#555" stroke-width="0.45" fill="none"/>
<rect x="145.52" y="292.72" width="6.07" height="13.28" fill="#74BAD1" stroke="#767676" stroke-width="0.45"/>
<path d="M147.05 291.74H150.05M148.55 291.74V293.70M147.05 293.70H150.05" stroke="#555" stroke-width="0.45" fill="none"/>
<rect x="152.12" y="294.80" width="6.07" height="11.20" fill="#74BAD1" stroke="#767676" stroke-width="0.45"/>
<path d="M153.65 293.87H156.65M155.15 293.87V295.73M153.65 295.73H156.65" stroke="#555" stroke-width="0.45" fill="none"/>
<rect x="158.71" y="304.56" width="6.07" height="1.44" fill="#74BAD1" stroke="#767676" stroke-width="0.45"/>
<path d="M160.25 303.83H163.25M161.75 303.83V305.29M160.25 305.29H163.25" stroke="#555" stroke-width="0.45" fill="none"/>
<rect x="165.31" y="302.64" width="6.07" height="3.36" fill="#74BAD1" stroke="#767676" stroke-width="0.45"/>
<path d="M166.84 301.87H169.84M168.34 301.87V303.41M166.84 303.41H169.84" stroke="#555" stroke-width="0.45" fill="none"/>
<rect x="171.91" y="301.20" width="6.07" height="4.80" fill="#74BAD1" stroke="#767676" stroke-width="0.45"/>
<path d="M173.44 300.40H176.44M174.94 300.40V302.00M173.44 302.00H176.44" stroke="#555" stroke-width="0.45" fill="none"/>
<text transform="translate(136.46,330.4) rotate(-45)" font-size="5.7" class="t" text-anchor="middle" dy="1.9">0</text>
<path d="M135.36 325.6V327.4" stroke="#555" stroke-width="0.5"/>
<text transform="translate(143.06,330.4) rotate(-45)" font-size="5.7" class="t" text-anchor="middle" dy="1.9">1</text>
<path d="M141.96 325.6V327.4" stroke="#555" stroke-width="0.5"/>
<text transform="translate(149.65,330.4) rotate(-45)" font-size="5.7" class="t" text-anchor="middle" dy="1.9">6</text>
<path d="M148.55 325.6V327.4" stroke="#555" stroke-width="0.5"/>
<text transform="translate(156.25,330.4) rotate(-45)" font-size="5.7" class="t" text-anchor="middle" dy="1.9">12</text>
<path d="M155.15 325.6V327.4" stroke="#555" stroke-width="0.5"/>
<text transform="translate(162.85,330.4) rotate(-45)" font-size="5.7" class="t" text-anchor="middle" dy="1.9">24</text>
<path d="M161.75 325.6V327.4" stroke="#555" stroke-width="0.5"/>
<text transform="translate(169.44,330.4) rotate(-45)" font-size="5.7" class="t" text-anchor="middle" dy="1.9">72</text>
<path d="M168.34 325.6V327.4" stroke="#555" stroke-width="0.5"/>
<text transform="translate(176.04,330.4) rotate(-45)" font-size="5.7" class="t" text-anchor="middle" dy="1.9">120</text>
<path d="M174.94 325.6V327.4" stroke="#555" stroke-width="0.5"/>
<rect x="182.10" y="278.80" width="47.50" height="46.80" fill="#F5F5F1"/>
<path d="M186.06 278.80V325.60M189.36 278.80V325.60M192.66 278.80V325.60M195.95 278.80V325.60M199.25 278.80V325.60M202.55 278.80V325.60M205.85 278.80V325.60M209.15 278.80V325.60M212.45 278.80V325.60M215.75 278.80V325.60M219.04 278.80V325.60M222.34 278.80V325.60M225.64 278.80V325.60M228.94 278.80V325.60M182.10 322.00H229.60M182.10 314.00H229.60M182.10 306.00H229.60M182.10 298.00H229.60M182.10 290.00H229.60M182.10 282.00H229.60" stroke="#FFFFFF" stroke-width="0.45" fill="none"/>
<rect x="183.76" y="305.20" width="4.6" height="1.60" fill="#7a7a7a"/>
<path d="M184.46 302.80H187.66M186.06 302.80V309.20M184.46 309.20H187.66" stroke="#707070" stroke-width="0.45" fill="none"/>
<rect x="189.62" y="306.00" width="6.07" height="16.16" fill="#74BAD1" stroke="#767676" stroke-width="0.45"/>
<path d="M191.16 321.12H194.16M192.66 321.12V323.20M191.16 323.20H194.16" stroke="#555" stroke-width="0.45" fill="none"/>
<rect x="196.22" y="284.40" width="6.07" height="21.60" fill="#74BAD1" stroke="#767676" stroke-width="0.45"/>
<path d="M197.75 283.25H200.75M199.25 283.25V285.55M197.75 285.55H200.75" stroke="#555" stroke-width="0.45" fill="none"/>
<rect x="202.82" y="290.00" width="6.07" height="16.00" fill="#74BAD1" stroke="#767676" stroke-width="0.45"/>
<path d="M204.35 288.97H207.35M205.85 288.97V291.03M204.35 291.03H207.35" stroke="#555" stroke-width="0.45" fill="none"/>
<rect x="209.41" y="297.04" width="6.07" height="8.96" fill="#74BAD1" stroke="#767676" stroke-width="0.45"/>
<path d="M210.95 296.15H213.95M212.45 296.15V297.93M210.95 297.93H213.95" stroke="#555" stroke-width="0.45" fill="none"/>
<rect x="216.01" y="299.12" width="6.07" height="6.88" fill="#74BAD1" stroke="#767676" stroke-width="0.45"/>
<path d="M217.54 298.28H220.54M219.04 298.28V299.96M217.54 299.96H220.54" stroke="#555" stroke-width="0.45" fill="none"/>
<rect x="222.61" y="294.96" width="6.07" height="11.04" fill="#74BAD1" stroke="#767676" stroke-width="0.45"/>
<path d="M224.14 294.03H227.14M225.64 294.03V295.89M224.14 295.89H227.14" stroke="#555" stroke-width="0.45" fill="none"/>
<text transform="translate(187.16,330.4) rotate(-45)" font-size="5.7" class="t" text-anchor="middle" dy="1.9">0</text>
<path d="M186.06 325.6V327.4" stroke="#555" stroke-width="0.5"/>
<text transform="translate(193.76,330.4) rotate(-45)" font-size="5.7" class="t" text-anchor="middle" dy="1.9">1</text>
<path d="M192.66 325.6V327.4" stroke="#555" stroke-width="0.5"/>
<text transform="translate(200.35,330.4) rotate(-45)" font-size="5.7" class="t" text-anchor="middle" dy="1.9">6</text>
<path d="M199.25 325.6V327.4" stroke="#555" stroke-width="0.5"/>
<text transform="translate(206.95,330.4) rotate(-45)" font-size="5.7" class="t" text-anchor="middle" dy="1.9">12</text>
<path d="M205.85 325.6V327.4" stroke="#555" stroke-width="0.5"/>
<text transform="translate(213.55,330.4) rotate(-45)" font-size="5.7" class="t" text-anchor="middle" dy="1.9">24</text>
<path d="M212.45 325.6V327.4" stroke="#555" stroke-width="0.5"/>
<text transform="translate(220.14,330.4) rotate(-45)" font-size="5.7" class="t" text-anchor="middle" dy="1.9">72</text>
<path d="M219.04 325.6V327.4" stroke="#555" stroke-width="0.5"/>
<text transform="translate(226.74,330.4) rotate(-45)" font-size="5.7" class="t" text-anchor="middle" dy="1.9">120</text>
<path d="M225.64 325.6V327.4" stroke="#555" stroke-width="0.5"/>
<rect x="232.80" y="278.80" width="47.50" height="46.80" fill="#F5F5F1"/>
<path d="M236.76 278.80V325.60M240.06 278.80V325.60M243.36 278.80V325.60M246.65 278.80V325.60M249.95 278.80V325.60M253.25 278.80V325.60M256.55 278.80V325.60M259.85 278.80V325.60M263.15 278.80V325.60M266.45 278.80V325.60M269.74 278.80V325.60M273.04 278.80V325.60M276.34 278.80V325.60M279.64 278.80V325.60M232.80 322.00H280.30M232.80 314.00H280.30M232.80 306.00H280.30M232.80 298.00H280.30M232.80 290.00H280.30M232.80 282.00H280.30" stroke="#FFFFFF" stroke-width="0.45" fill="none"/>
<rect x="234.46" y="305.20" width="4.6" height="1.60" fill="#7a7a7a"/>
<path d="M235.16 305.20H238.36M236.76 305.20V306.80M235.16 306.80H238.36" stroke="#707070" stroke-width="0.45" fill="none"/>
<rect x="240.32" y="302.64" width="6.07" height="3.36" fill="#74BAD1" stroke="#767676" stroke-width="0.45"/>
<path d="M241.86 301.87H244.86M243.36 301.87V303.41M241.86 303.41H244.86" stroke="#555" stroke-width="0.45" fill="none"/>
<rect x="246.92" y="293.36" width="6.07" height="12.64" fill="#74BAD1" stroke="#767676" stroke-width="0.45"/>
<path d="M248.45 292.40H251.45M249.95 292.40V294.32M248.45 294.32H251.45" stroke="#555" stroke-width="0.45" fill="none"/>
<rect x="253.52" y="288.56" width="6.07" height="17.44" fill="#74BAD1" stroke="#767676" stroke-width="0.45"/>
<path d="M255.05 287.50H258.05M256.55 287.50V289.62M255.05 289.62H258.05" stroke="#555" stroke-width="0.45" fill="none"/>
<rect x="260.11" y="299.12" width="6.07" height="6.88" fill="#74BAD1" stroke="#767676" stroke-width="0.45"/>
<path d="M261.65 298.28H264.65M263.15 298.28V299.96M261.65 299.96H264.65" stroke="#555" stroke-width="0.45" fill="none"/>
<rect x="266.71" y="296.40" width="6.07" height="9.60" fill="#74BAD1" stroke="#767676" stroke-width="0.45"/>
<path d="M268.24 295.50H271.24M269.74 295.50V297.30M268.24 297.30H271.24" stroke="#555" stroke-width="0.45" fill="none"/>
<rect x="273.31" y="305.55" width="6.07" height="0.9" fill="#555" stroke="none"/>
<text transform="translate(237.86,330.4) rotate(-45)" font-size="5.7" class="t" text-anchor="middle" dy="1.9">0</text>
<path d="M236.76 325.6V327.4" stroke="#555" stroke-width="0.5"/>
<text transform="translate(244.46,330.4) rotate(-45)" font-size="5.7" class="t" text-anchor="middle" dy="1.9">1</text>
<path d="M243.36 325.6V327.4" stroke="#555" stroke-width="0.5"/>
<text transform="translate(251.05,330.4) rotate(-45)" font-size="5.7" class="t" text-anchor="middle" dy="1.9">6</text>
<path d="M249.95 325.6V327.4" stroke="#555" stroke-width="0.5"/>
<text transform="translate(257.65,330.4) rotate(-45)" font-size="5.7" class="t" text-anchor="middle" dy="1.9">12</text>
<path d="M256.55 325.6V327.4" stroke="#555" stroke-width="0.5"/>
<text transform="translate(264.25,330.4) rotate(-45)" font-size="5.7" class="t" text-anchor="middle" dy="1.9">24</text>
<path d="M263.15 325.6V327.4" stroke="#555" stroke-width="0.5"/>
<text transform="translate(270.84,330.4) rotate(-45)" font-size="5.7" class="t" text-anchor="middle" dy="1.9">72</text>
<path d="M269.74 325.6V327.4" stroke="#555" stroke-width="0.5"/>
<text transform="translate(277.44,330.4) rotate(-45)" font-size="5.7" class="t" text-anchor="middle" dy="1.9">120</text>
<path d="M276.34 325.6V327.4" stroke="#555" stroke-width="0.5"/>
<rect x="283.50" y="278.80" width="47.50" height="46.80" fill="#F5F5F1"/>
<path d="M287.46 278.80V325.60M290.76 278.80V325.60M294.06 278.80V325.60M297.35 278.80V325.60M300.65 278.80V325.60M303.95 278.80V325.60M307.25 278.80V325.60M310.55 278.80V325.60M313.85 278.80V325.60M317.15 278.80V325.60M320.44 278.80V325.60M323.74 278.80V325.60M327.04 278.80V325.60M330.34 278.80V325.60M283.50 322.00H331.00M283.50 314.00H331.00M283.50 306.00H331.00M283.50 298.00H331.00M283.50 290.00H331.00M283.50 282.00H331.00" stroke="#FFFFFF" stroke-width="0.45" fill="none"/>
<rect x="285.16" y="305.20" width="4.6" height="1.60" fill="#7a7a7a"/>
<rect x="291.02" y="294.96" width="6.07" height="11.04" fill="#74BAD1" stroke="#767676" stroke-width="0.45"/>
<path d="M292.56 294.03H295.56M294.06 294.03V295.89M292.56 295.89H295.56" stroke="#555" stroke-width="0.45" fill="none"/>
<rect x="297.62" y="287.76" width="6.07" height="18.24" fill="#74BAD1" stroke="#767676" stroke-width="0.45"/>
<path d="M299.15 286.68H302.15M300.65 286.68V288.84M299.15 288.84H302.15" stroke="#555" stroke-width="0.45" fill="none"/>
<rect x="304.22" y="287.76" width="6.07" height="18.24" fill="#74BAD1" stroke="#767676" stroke-width="0.45"/>
<path d="M305.75 286.68H308.75M307.25 286.68V288.84M305.75 288.84H308.75" stroke="#555" stroke-width="0.45" fill="none"/>
<rect x="310.81" y="306.00" width="6.07" height="4.16" fill="#74BAD1" stroke="#767676" stroke-width="0.45"/>
<path d="M312.35 309.37H315.35M313.85 309.37V310.95M312.35 310.95H315.35" stroke="#555" stroke-width="0.45" fill="none"/>
<rect x="317.41" y="306.00" width="6.07" height="1.44" fill="#74BAD1" stroke="#767676" stroke-width="0.45"/>
<path d="M318.94 306.71H321.94M320.44 306.71V308.17M318.94 308.17H321.94" stroke="#555" stroke-width="0.45" fill="none"/>
<rect x="324.01" y="306.00" width="6.07" height="3.52" fill="#74BAD1" stroke="#767676" stroke-width="0.45"/>
<path d="M325.54 308.75H328.54M327.04 308.75V310.29M325.54 310.29H328.54" stroke="#555" stroke-width="0.45" fill="none"/>
<text transform="translate(288.56,330.4) rotate(-45)" font-size="5.7" class="t" text-anchor="middle" dy="1.9">0</text>
<path d="M287.46 325.6V327.4" stroke="#555" stroke-width="0.5"/>
<text transform="translate(295.16,330.4) rotate(-45)" font-size="5.7" class="t" text-anchor="middle" dy="1.9">1</text>
<path d="M294.06 325.6V327.4" stroke="#555" stroke-width="0.5"/>
<text transform="translate(301.75,330.4) rotate(-45)" font-size="5.7" class="t" text-anchor="middle" dy="1.9">6</text>
<path d="M300.65 325.6V327.4" stroke="#555" stroke-width="0.5"/>
<text transform="translate(308.35,330.4) rotate(-45)" font-size="5.7" class="t" text-anchor="middle" dy="1.9">12</text>
<path d="M307.25 325.6V327.4" stroke="#555" stroke-width="0.5"/>
<text transform="translate(314.95,330.4) rotate(-45)" font-size="5.7" class="t" text-anchor="middle" dy="1.9">24</text>
<path d="M313.85 325.6V327.4" stroke="#555" stroke-width="0.5"/>
<text transform="translate(321.54,330.4) rotate(-45)" font-size="5.7" class="t" text-anchor="middle" dy="1.9">72</text>
<path d="M320.44 325.6V327.4" stroke="#555" stroke-width="0.5"/>
<text transform="translate(328.14,330.4) rotate(-45)" font-size="5.7" class="t" text-anchor="middle" dy="1.9">120</text>
<path d="M327.04 325.6V327.4" stroke="#555" stroke-width="0.5"/>
<rect x="334.20" y="278.80" width="47.50" height="46.80" fill="#F5F5F1"/>
<path d="M338.16 278.80V325.60M341.46 278.80V325.60M344.76 278.80V325.60M348.05 278.80V325.60M351.35 278.80V325.60M354.65 278.80V325.60M357.95 278.80V325.60M361.25 278.80V325.60M364.55 278.80V325.60M367.85 278.80V325.60M371.14 278.80V325.60M374.44 278.80V325.60M377.74 278.80V325.60M381.04 278.80V325.60M334.20 322.00H381.70M334.20 314.00H381.70M334.20 306.00H381.70M334.20 298.00H381.70M334.20 290.00H381.70M334.20 282.00H381.70" stroke="#FFFFFF" stroke-width="0.45" fill="none"/>
<rect x="335.86" y="305.20" width="4.6" height="1.60" fill="#7a7a7a"/>
<rect x="341.72" y="304.72" width="6.07" height="1.28" fill="#74BAD1" stroke="#767676" stroke-width="0.45"/>
<path d="M343.26 303.99H346.26M344.76 303.99V305.45M343.26 305.45H346.26" stroke="#555" stroke-width="0.45" fill="none"/>
<rect x="348.32" y="300.56" width="6.07" height="5.44" fill="#74BAD1" stroke="#767676" stroke-width="0.45"/>
<path d="M349.85 299.75H352.85M351.35 299.75V301.37M349.85 301.37H352.85" stroke="#555" stroke-width="0.45" fill="none"/>
<rect x="354.92" y="304.56" width="6.07" height="1.44" fill="#74BAD1" stroke="#767676" stroke-width="0.45"/>
<path d="M356.45 303.83H359.45M357.95 303.83V305.29M356.45 305.29H359.45" stroke="#555" stroke-width="0.45" fill="none"/>
<rect x="361.51" y="306.00" width="6.07" height="9.76" fill="#74BAD1" stroke="#767676" stroke-width="0.45"/>
<path d="M363.05 314.86H366.05M364.55 314.86V316.66M363.05 316.66H366.05" stroke="#555" stroke-width="0.45" fill="none"/>
<rect x="368.11" y="306.00" width="6.07" height="5.76" fill="#74BAD1" stroke="#767676" stroke-width="0.45"/>
<path d="M369.64 310.94H372.64M371.14 310.94V312.58M369.64 312.58H372.64" stroke="#555" stroke-width="0.45" fill="none"/>
<rect x="374.71" y="306.00" width="6.07" height="11.20" fill="#74BAD1" stroke="#767676" stroke-width="0.45"/>
<path d="M376.24 316.27H379.24M377.74 316.27V318.13M376.24 318.13H379.24" stroke="#555" stroke-width="0.45" fill="none"/>
<text transform="translate(339.26,330.4) rotate(-45)" font-size="5.7" class="t" text-anchor="middle" dy="1.9">0</text>
<path d="M338.16 325.6V327.4" stroke="#555" stroke-width="0.5"/>
<text transform="translate(345.86,330.4) rotate(-45)" font-size="5.7" class="t" text-anchor="middle" dy="1.9">1</text>
<path d="M344.76 325.6V327.4" stroke="#555" stroke-width="0.5"/>
<text transform="translate(352.45,330.4) rotate(-45)" font-size="5.7" class="t" text-anchor="middle" dy="1.9">6</text>
<path d="M351.35 325.6V327.4" stroke="#555" stroke-width="0.5"/>
<text transform="translate(359.05,330.4) rotate(-45)" font-size="5.7" class="t" text-anchor="middle" dy="1.9">12</text>
<path d="M357.95 325.6V327.4" stroke="#555" stroke-width="0.5"/>
<text transform="translate(365.65,330.4) rotate(-45)" font-size="5.7" class="t" text-anchor="middle" dy="1.9">24</text>
<path d="M364.55 325.6V327.4" stroke="#555" stroke-width="0.5"/>
<text transform="translate(372.24,330.4) rotate(-45)" font-size="5.7" class="t" text-anchor="middle" dy="1.9">72</text>
<path d="M371.14 325.6V327.4" stroke="#555" stroke-width="0.5"/>
<text transform="translate(378.84,330.4) rotate(-45)" font-size="5.7" class="t" text-anchor="middle" dy="1.9">120</text>
<path d="M377.74 325.6V327.4" stroke="#555" stroke-width="0.5"/>
<rect x="384.90" y="278.80" width="47.50" height="46.80" fill="#F5F5F1"/>
<path d="M388.86 278.80V325.60M392.16 278.80V325.60M395.46 278.80V325.60M398.75 278.80V325.60M402.05 278.80V325.60M405.35 278.80V325.60M408.65 278.80V325.60M411.95 278.80V325.60M415.25 278.80V325.60M418.55 278.80V325.60M421.84 278.80V325.60M425.14 278.80V325.60M428.44 278.80V325.60M431.74 278.80V325.60M384.90 322.00H432.40M384.90 314.00H432.40M384.90 306.00H432.40M384.90 298.00H432.40M384.90 290.00H432.40M384.90 282.00H432.40" stroke="#FFFFFF" stroke-width="0.45" fill="none"/>
<rect x="386.56" y="305.20" width="4.6" height="1.60" fill="#7a7a7a"/>
<rect x="392.42" y="306.00" width="6.07" height="5.76" fill="#74BAD1" stroke="#767676" stroke-width="0.45"/>
<path d="M393.96 310.94H396.96M395.46 310.94V312.58M393.96 312.58H396.96" stroke="#555" stroke-width="0.45" fill="none"/>
<rect x="399.02" y="285.84" width="6.07" height="20.16" fill="#74BAD1" stroke="#767676" stroke-width="0.45"/>
<path d="M400.55 284.72H403.55M402.05 284.72V286.96M400.55 286.96H403.55" stroke="#555" stroke-width="0.45" fill="none"/>
<rect x="405.62" y="290.64" width="6.07" height="15.36" fill="#74BAD1" stroke="#767676" stroke-width="0.45"/>
<path d="M407.15 289.62H410.15M408.65 289.62V291.66M407.15 291.66H410.15" stroke="#555" stroke-width="0.45" fill="none"/>
<rect x="412.21" y="306.00" width="6.07" height="1.44" fill="#74BAD1" stroke="#767676" stroke-width="0.45"/>
<path d="M413.75 306.71H416.75M415.25 306.71V308.17M413.75 308.17H416.75" stroke="#555" stroke-width="0.45" fill="none"/>
<rect x="418.81" y="306.00" width="6.07" height="0.80" fill="#74BAD1" stroke="#767676" stroke-width="0.45"/>
<path d="M420.34 306.08H423.34M421.84 306.08V307.52M420.34 307.52H423.34" stroke="#555" stroke-width="0.45" fill="none"/>
<rect x="425.41" y="306.00" width="6.07" height="2.24" fill="#74BAD1" stroke="#767676" stroke-width="0.45"/>
<path d="M426.94 307.49H429.94M428.44 307.49V308.99M426.94 308.99H429.94" stroke="#555" stroke-width="0.45" fill="none"/>
<text transform="translate(389.96,330.4) rotate(-45)" font-size="5.7" class="t" text-anchor="middle" dy="1.9">0</text>
<path d="M388.86 325.6V327.4" stroke="#555" stroke-width="0.5"/>
<text transform="translate(396.56,330.4) rotate(-45)" font-size="5.7" class="t" text-anchor="middle" dy="1.9">1</text>
<path d="M395.46 325.6V327.4" stroke="#555" stroke-width="0.5"/>
<text transform="translate(403.15,330.4) rotate(-45)" font-size="5.7" class="t" text-anchor="middle" dy="1.9">6</text>
<path d="M402.05 325.6V327.4" stroke="#555" stroke-width="0.5"/>
<text transform="translate(409.75,330.4) rotate(-45)" font-size="5.7" class="t" text-anchor="middle" dy="1.9">12</text>
<path d="M408.65 325.6V327.4" stroke="#555" stroke-width="0.5"/>
<text transform="translate(416.35,330.4) rotate(-45)" font-size="5.7" class="t" text-anchor="middle" dy="1.9">24</text>
<path d="M415.25 325.6V327.4" stroke="#555" stroke-width="0.5"/>
<text transform="translate(422.94,330.4) rotate(-45)" font-size="5.7" class="t" text-anchor="middle" dy="1.9">72</text>
<path d="M421.84 325.6V327.4" stroke="#555" stroke-width="0.5"/>
<text transform="translate(429.54,330.4) rotate(-45)" font-size="5.7" class="t" text-anchor="middle" dy="1.9">120</text>
<path d="M428.44 325.6V327.4" stroke="#555" stroke-width="0.5"/>
<rect x="435.60" y="278.80" width="47.50" height="46.80" fill="#F5F5F1"/>
<path d="M439.56 278.80V325.60M442.86 278.80V325.60M446.16 278.80V325.60M449.45 278.80V325.60M452.75 278.80V325.60M456.05 278.80V325.60M459.35 278.80V325.60M462.65 278.80V325.60M465.95 278.80V325.60M469.25 278.80V325.60M472.54 278.80V325.60M475.84 278.80V325.60M479.14 278.80V325.60M482.44 278.80V325.60M435.60 322.00H483.10M435.60 314.00H483.10M435.60 306.00H483.10M435.60 298.00H483.10M435.60 290.00H483.10M435.60 282.00H483.10" stroke="#FFFFFF" stroke-width="0.45" fill="none"/>
<rect x="437.26" y="305.20" width="4.6" height="1.60" fill="#7a7a7a"/>
<rect x="443.12" y="297.04" width="6.07" height="8.96" fill="#74BAD1" stroke="#767676" stroke-width="0.45"/>
<path d="M444.66 296.15H447.66M446.16 296.15V297.93M444.66 297.93H447.66" stroke="#555" stroke-width="0.45" fill="none"/>
<rect x="449.72" y="299.76" width="6.07" height="6.24" fill="#74BAD1" stroke="#767676" stroke-width="0.45"/>
<path d="M451.25 298.93H454.25M452.75 298.93V300.59M451.25 300.59H454.25" stroke="#555" stroke-width="0.45" fill="none"/>
<rect x="456.32" y="285.20" width="6.07" height="20.80" fill="#74BAD1" stroke="#767676" stroke-width="0.45"/>
<path d="M457.85 284.07H460.85M459.35 284.07V286.33M457.85 286.33H460.85" stroke="#555" stroke-width="0.45" fill="none"/>
<rect x="462.91" y="306.00" width="6.07" height="2.88" fill="#74BAD1" stroke="#767676" stroke-width="0.45"/>
<path d="M464.45 308.12H467.45M465.95 308.12V309.64M464.45 309.64H467.45" stroke="#555" stroke-width="0.45" fill="none"/>
<rect x="469.51" y="306.00" width="6.07" height="2.24" fill="#74BAD1" stroke="#767676" stroke-width="0.45"/>
<path d="M471.04 307.49H474.04M472.54 307.49V308.99M471.04 308.99H474.04" stroke="#555" stroke-width="0.45" fill="none"/>
<rect x="476.11" y="306.00" width="6.07" height="2.24" fill="#74BAD1" stroke="#767676" stroke-width="0.45"/>
<path d="M477.64 307.49H480.64M479.14 307.49V308.99M477.64 308.99H480.64" stroke="#555" stroke-width="0.45" fill="none"/>
<text transform="translate(440.66,330.4) rotate(-45)" font-size="5.7" class="t" text-anchor="middle" dy="1.9">0</text>
<path d="M439.56 325.6V327.4" stroke="#555" stroke-width="0.5"/>
<text transform="translate(447.26,330.4) rotate(-45)" font-size="5.7" class="t" text-anchor="middle" dy="1.9">1</text>
<path d="M446.16 325.6V327.4" stroke="#555" stroke-width="0.5"/>
<text transform="translate(453.85,330.4) rotate(-45)" font-size="5.7" class="t" text-anchor="middle" dy="1.9">6</text>
<path d="M452.75 325.6V327.4" stroke="#555" stroke-width="0.5"/>
<text transform="translate(460.45,330.4) rotate(-45)" font-size="5.7" class="t" text-anchor="middle" dy="1.9">12</text>
<path d="M459.35 325.6V327.4" stroke="#555" stroke-width="0.5"/>
<text transform="translate(467.05,330.4) rotate(-45)" font-size="5.7" class="t" text-anchor="middle" dy="1.9">24</text>
<path d="M465.95 325.6V327.4" stroke="#555" stroke-width="0.5"/>
<text transform="translate(473.64,330.4) rotate(-45)" font-size="5.7" class="t" text-anchor="middle" dy="1.9">72</text>
<path d="M472.54 325.6V327.4" stroke="#555" stroke-width="0.5"/>
<text transform="translate(480.24,330.4) rotate(-45)" font-size="5.7" class="t" text-anchor="middle" dy="1.9">120</text>
<path d="M479.14 325.6V327.4" stroke="#555" stroke-width="0.5"/>
<rect x="486.30" y="278.80" width="47.50" height="46.80" fill="#F5F5F1"/>
<path d="M490.26 278.80V325.60M493.56 278.80V325.60M496.86 278.80V325.60M500.15 278.80V325.60M503.45 278.80V325.60M506.75 278.80V325.60M510.05 278.80V325.60M513.35 278.80V325.60M516.65 278.80V325.60M519.95 278.80V325.60M523.24 278.80V325.60M526.54 278.80V325.60M529.84 278.80V325.60M533.14 278.80V325.60M486.30 322.00H533.80M486.30 314.00H533.80M486.30 306.00H533.80M486.30 298.00H533.80M486.30 290.00H533.80M486.30 282.00H533.80" stroke="#FFFFFF" stroke-width="0.45" fill="none"/>
<rect x="487.96" y="305.20" width="4.6" height="1.60" fill="#7a7a7a"/>
<rect x="493.82" y="301.20" width="6.07" height="4.80" fill="#74BAD1" stroke="#767676" stroke-width="0.45"/>
<path d="M495.36 300.40H498.36M496.86 300.40V302.00M495.36 302.00H498.36" stroke="#555" stroke-width="0.45" fill="none"/>
<rect x="500.42" y="305.36" width="6.07" height="0.64" fill="#74BAD1" stroke="#767676" stroke-width="0.45"/>
<path d="M501.95 304.65H504.95M503.45 304.65V306.07M501.95 306.07H504.95" stroke="#555" stroke-width="0.45" fill="none"/>
<rect x="507.75" y="305.20" width="4.6" height="1.60" fill="#7a7a7a"/>
<path d="M508.45 305.00H511.65M510.05 305.00V307.00M508.45 307.00H511.65" stroke="#707070" stroke-width="0.45" fill="none"/>
<rect x="513.61" y="303.60" width="6.07" height="2.40" fill="#74BAD1" stroke="#767676" stroke-width="0.45"/>
<path d="M515.15 302.85H518.15M516.65 302.85V304.35M515.15 304.35H518.15" stroke="#555" stroke-width="0.45" fill="none"/>
<rect x="520.21" y="304.56" width="6.07" height="1.44" fill="#74BAD1" stroke="#767676" stroke-width="0.45"/>
<path d="M521.74 303.83H524.74M523.24 303.83V305.29M521.74 305.29H524.74" stroke="#555" stroke-width="0.45" fill="none"/>
<rect x="526.81" y="302.16" width="6.07" height="3.84" fill="#74BAD1" stroke="#767676" stroke-width="0.45"/>
<path d="M528.34 301.38H531.34M529.84 301.38V302.94M528.34 302.94H531.34" stroke="#555" stroke-width="0.45" fill="none"/>
<text transform="translate(491.36,330.4) rotate(-45)" font-size="5.7" class="t" text-anchor="middle" dy="1.9">0</text>
<path d="M490.26 325.6V327.4" stroke="#555" stroke-width="0.5"/>
<text transform="translate(497.96,330.4) rotate(-45)" font-size="5.7" class="t" text-anchor="middle" dy="1.9">1</text>
<path d="M496.86 325.6V327.4" stroke="#555" stroke-width="0.5"/>
<text transform="translate(504.55,330.4) rotate(-45)" font-size="5.7" class="t" text-anchor="middle" dy="1.9">6</text>
<path d="M503.45 325.6V327.4" stroke="#555" stroke-width="0.5"/>
<text transform="translate(511.15,330.4) rotate(-45)" font-size="5.7" class="t" text-anchor="middle" dy="1.9">12</text>
<path d="M510.05 325.6V327.4" stroke="#555" stroke-width="0.5"/>
<text transform="translate(517.75,330.4) rotate(-45)" font-size="5.7" class="t" text-anchor="middle" dy="1.9">24</text>
<path d="M516.65 325.6V327.4" stroke="#555" stroke-width="0.5"/>
<text transform="translate(524.34,330.4) rotate(-45)" font-size="5.7" class="t" text-anchor="middle" dy="1.9">72</text>
<path d="M523.24 325.6V327.4" stroke="#555" stroke-width="0.5"/>
<text transform="translate(530.94,330.4) rotate(-45)" font-size="5.7" class="t" text-anchor="middle" dy="1.9">120</text>
<path d="M529.84 325.6V327.4" stroke="#555" stroke-width="0.5"/>
<text x="26.9" y="292.00" font-size="5.7" text-anchor="end" class="t">10.0</text>
<path d="M27.6 290.00H30" stroke="#555" stroke-width="0.5"/>
<text x="26.9" y="308.00" font-size="5.7" text-anchor="end" class="t">1.0</text>
<path d="M27.6 306.00H30" stroke="#555" stroke-width="0.5"/>
<text x="26.9" y="324.00" font-size="5.7" text-anchor="end" class="t">0.1</text>
<path d="M27.6 322.00H30" stroke="#555" stroke-width="0.5"/>
<text transform="translate(536.6,305.00) rotate(90)" font-size="7.4" font-weight="bold" text-anchor="middle">Stem</text>
<text transform="translate(13.1,245.5) rotate(-90)" font-size="9" text-anchor="middle" class="s">Relative expression levels</text>
<text x="290.5" y="343.3" font-size="10" text-anchor="middle" class="s">Time (hours)</text>
</svg>
</body></html>
